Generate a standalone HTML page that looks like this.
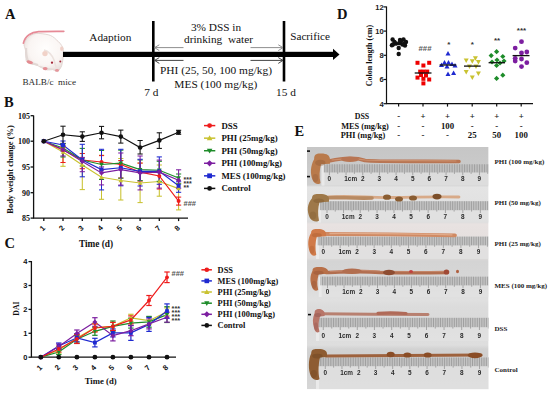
<!DOCTYPE html><html><head><meta charset="utf-8"><style>html,body{margin:0;padding:0;background:#fff;}body{width:550px;height:394px;overflow:hidden;}svg{display:block;}</style></head><body>
<svg width="550" height="394" viewBox="0 0 550 394">
<defs><filter id="bl" x="-20%" y="-20%" width="140%" height="140%"><feGaussianBlur stdDeviation="0.6"/></filter><filter id="bl2" x="-20%" y="-20%" width="140%" height="140%"><feGaussianBlur stdDeviation="1.2"/></filter></defs>
<text x="5" y="19" font-family="'Liberation Serif', serif" font-size="14.5" font-weight="bold" text-anchor="start" fill="#111" >A</text>
<text x="4" y="106.8" font-family="'Liberation Serif', serif" font-size="14.5" font-weight="bold" text-anchor="start" fill="#111" >B</text>
<text x="4.5" y="247.8" font-family="'Liberation Serif', serif" font-size="14.5" font-weight="bold" text-anchor="start" fill="#111" >C</text>
<text x="337" y="19" font-family="'Liberation Serif', serif" font-size="14.5" font-weight="bold" text-anchor="start" fill="#111" >D</text>
<text x="294.5" y="135.6" font-family="'Liberation Serif', serif" font-size="14.5" font-weight="bold" text-anchor="start" fill="#111" >E</text>
<radialGradient id="mg" cx="0.55" cy="0.4" r="0.65"><stop offset="0" stop-color="#fffefd"/><stop offset="0.65" stop-color="#faf5f3"/><stop offset="1" stop-color="#e6dcd9"/></radialGradient>
<g filter="url(#bl)">
<path d="M24,45 C24.5,47 25.3,49 25.5,50 C25.8,54 25.8,58 26.2,60.6 L27.6,62.7 C30,64 33,64.5 36,64.8 C39,66 42,68 45,69.6 C48,70.2 50,69.8 52.7,69.6 C54.5,70.2 56,71.5 57.6,71.7 C59.5,70 61,67.5 61.7,65.5 C62.5,62 63.1,59 63.1,57 C63.3,53 63.3,50 63.1,48 C61,44 59,42 56.9,40.3 C54,37 51,35.5 48.5,34.8 C44,33.8 40,33.3 35.9,33.4 C30,34.5 25,39 24,45 Z" fill="url(#mg)" stroke="#e0d2ce" stroke-width="0.9"/>
<path d="M44,50 C48,51 52,55 54,60 C55,64 56,67 57,70" stroke="#ece2de" stroke-width="1.6" fill="none"/>
<path d="M26,48 C26,54 26.5,58 28,61 C31,63.5 35,64 38,65" stroke="#e2d8d5" stroke-width="2.2" fill="none"/>
<path d="M40,66.5 C45,69 50,69 55,69.5" stroke="#e6dcd9" stroke-width="1.5" fill="none"/>
<path d="M23.4,43.1 C24.5,39 26.5,36.5 29,34.8 C31.5,33 35,32 38.7,31.7 C47,31.3 56,31.4 63.8,31.3" stroke="#e68a96" stroke-width="1.7" fill="none" stroke-linecap="round"/>
<ellipse cx="45" cy="53.6" rx="2.7" ry="2.6" fill="#f1d2c8"/>
<ellipse cx="61.7" cy="48.7" rx="1.6" ry="2.2" fill="#f0d0c8"/>
<circle cx="52" cy="62.7" r="1.15" fill="#a52a3a"/>
<circle cx="60.3" cy="61.6" r="1.0" fill="#a52a3a"/>
<ellipse cx="57" cy="70.4" rx="2" ry="1.4" fill="#e6969c"/>
<ellipse cx="45.2" cy="68.6" rx="2.4" ry="1.6" fill="#e48e94"/>
<ellipse cx="29.8" cy="62.2" rx="3.2" ry="1.6" fill="#e48a90" transform="rotate(15 29.8 62.2)"/>
</g>
<rect x="63" y="51.8" width="271" height="5.2" fill="#000"/>
<polygon points="333,48.8 339.5,54.4 333,60" fill="#000"/>
<rect x="152" y="21" width="2.6" height="60.5" fill="#000"/>
<rect x="282.7" y="21" width="2.6" height="60.5" fill="#000"/>
<g fill="none" stroke-width="0.95">
<g stroke="#8a8a8a"><line x1="155" y1="47.6" x2="183.5" y2="47.6"/><line x1="250.5" y1="47.6" x2="283" y2="47.6"/>
<polyline points="159.3,44.8 154.6,47.6 159.3,50.6"/><polyline points="278.3,44.8 283,47.6 278.3,50.6"/></g>
<g stroke="#3a3a3a"><line x1="155" y1="60.4" x2="183.5" y2="60.4"/><line x1="250.5" y1="60.4" x2="283" y2="60.4"/>
<polyline points="159.3,57.6 154.6,60.4 159.3,63.4"/><polyline points="278.3,57.6 283,60.4 278.3,63.4"/></g>
</g>
<text x="89.3" y="40.7" font-family="'Liberation Serif', serif" font-size="11.3" font-weight="normal" text-anchor="start" fill="#111" >Adaption</text>
<text x="216" y="31.2" font-family="'Liberation Serif', serif" font-size="11.3" font-weight="normal" text-anchor="middle" fill="#111" >3% DSS in</text>
<text x="218.5" y="43.4" font-family="'Liberation Serif', serif" font-size="11.3" font-weight="normal" text-anchor="middle" fill="#111" >drinking&#160; water</text>
<text x="216" y="74.3" font-family="'Liberation Serif', serif" font-size="11.4" font-weight="normal" text-anchor="middle" fill="#111" >PHI (25, 50, 100 mg/kg)</text>
<text x="215.8" y="87.5" font-family="'Liberation Serif', serif" font-size="11.4" font-weight="normal" text-anchor="middle" fill="#111" >MES (100 mg/kg)</text>
<text x="290.2" y="40.4" font-family="'Liberation Serif', serif" font-size="11.2" font-weight="normal" text-anchor="start" fill="#111" >Sacrifice</text>
<text x="49.2" y="85" font-family="'Liberation Serif', serif" font-size="9.2" font-weight="normal" text-anchor="middle" fill="#2a2a2a" >BALB/c&#160; mice</text>
<text x="151.4" y="96" font-family="'Liberation Serif', serif" font-size="11.3" font-weight="normal" text-anchor="middle" fill="#111" >7 d</text>
<text x="286" y="96" font-family="'Liberation Serif', serif" font-size="11.3" font-weight="normal" text-anchor="middle" fill="#111" >15 d</text>
<g stroke="#111" stroke-width="1.3" fill="none">
<line x1="33.6" y1="115.5" x2="33.6" y2="218.1"/>
<line x1="33" y1="218.1" x2="188" y2="218.1"/>
<line x1="30.6" y1="115.7" x2="33.6" y2="115.7"/>
<line x1="30.6" y1="141.2" x2="33.6" y2="141.2"/>
<line x1="30.6" y1="167" x2="33.6" y2="167"/>
<line x1="30.6" y1="192.7" x2="33.6" y2="192.7"/>
<line x1="30.6" y1="218.1" x2="33.6" y2="218.1"/>
<line x1="43.8" y1="218.1" x2="43.8" y2="221.1"/>
<line x1="63.0" y1="218.1" x2="63.0" y2="221.1"/>
<line x1="82.3" y1="218.1" x2="82.3" y2="221.1"/>
<line x1="101.5" y1="218.1" x2="101.5" y2="221.1"/>
<line x1="120.8" y1="218.1" x2="120.8" y2="221.1"/>
<line x1="140.1" y1="218.1" x2="140.1" y2="221.1"/>
<line x1="159.3" y1="218.1" x2="159.3" y2="221.1"/>
<line x1="178.6" y1="218.1" x2="178.6" y2="221.1"/>
</g>
<text x="29.9" y="118.5" font-family="'Liberation Serif', serif" font-size="8" font-weight="bold" text-anchor="end" fill="#111" >105</text>
<text x="29.9" y="144.0" font-family="'Liberation Serif', serif" font-size="8" font-weight="bold" text-anchor="end" fill="#111" >100</text>
<text x="29.9" y="169.8" font-family="'Liberation Serif', serif" font-size="8" font-weight="bold" text-anchor="end" fill="#111" >95</text>
<text x="29.9" y="195.5" font-family="'Liberation Serif', serif" font-size="8" font-weight="bold" text-anchor="end" fill="#111" >90</text>
<text x="29.9" y="220.9" font-family="'Liberation Serif', serif" font-size="8" font-weight="bold" text-anchor="end" fill="#111" >85</text>
<text x="42.8" y="230.5" font-family="'Liberation Sans', sans-serif" font-size="7.5" font-weight="bold" text-anchor="middle" fill="#111" transform="rotate(-45 42.8 228.5)">1</text>
<text x="62.05" y="230.5" font-family="'Liberation Sans', sans-serif" font-size="7.5" font-weight="bold" text-anchor="middle" fill="#111" transform="rotate(-45 62.0 228.5)">2</text>
<text x="81.3" y="230.5" font-family="'Liberation Sans', sans-serif" font-size="7.5" font-weight="bold" text-anchor="middle" fill="#111" transform="rotate(-45 81.3 228.5)">3</text>
<text x="100.55" y="230.5" font-family="'Liberation Sans', sans-serif" font-size="7.5" font-weight="bold" text-anchor="middle" fill="#111" transform="rotate(-45 100.5 228.5)">4</text>
<text x="119.8" y="230.5" font-family="'Liberation Sans', sans-serif" font-size="7.5" font-weight="bold" text-anchor="middle" fill="#111" transform="rotate(-45 119.8 228.5)">5</text>
<text x="139.05" y="230.5" font-family="'Liberation Sans', sans-serif" font-size="7.5" font-weight="bold" text-anchor="middle" fill="#111" transform="rotate(-45 139.1 228.5)">6</text>
<text x="158.3" y="230.5" font-family="'Liberation Sans', sans-serif" font-size="7.5" font-weight="bold" text-anchor="middle" fill="#111" transform="rotate(-45 158.3 228.5)">7</text>
<text x="177.55" y="230.5" font-family="'Liberation Sans', sans-serif" font-size="7.5" font-weight="bold" text-anchor="middle" fill="#111" transform="rotate(-45 177.6 228.5)">8</text>
<text x="96" y="246.6" font-family="'Liberation Serif', serif" font-size="9.3" font-weight="bold" text-anchor="middle" fill="#111" >Time (d)</text>
<text x="0" y="0" font-family="'Liberation Serif', serif" font-size="8.45" font-weight="bold" text-anchor="middle" fill="#111" transform="translate(12.9 169.5) rotate(-90)">Body weight change (%)</text>
<polyline points="43.8,141.2 63.0,152.0 82.3,165.0 101.5,177.2 120.8,180.5 140.1,183.0 159.3,181.5 178.6,188.6" stroke="#c9c230" stroke-width="1.15" fill="none"/>
<polyline points="43.8,141.2 63.0,150.0 82.3,160.0 101.5,162.0 120.8,164.5 140.1,172.1 159.3,176.0 178.6,201.1" stroke="#ee1c1c" stroke-width="1.15" fill="none"/>
<polyline points="43.8,141.2 63.0,148.0 82.3,160.0 101.5,164.5 120.8,163.2 140.1,169.6 159.3,170.3 178.6,178.0" stroke="#1e8c2a" stroke-width="1.15" fill="none"/>
<polyline points="43.8,141.2 63.0,145.0 82.3,160.0 101.5,169.6 120.8,167.8 140.1,171.3 159.3,171.3 178.6,185.8" stroke="#1f2ad0" stroke-width="1.15" fill="none"/>
<polyline points="43.8,141.2 63.0,149.5 82.3,161.4 101.5,172.9 120.8,169.6 140.1,172.9 159.3,172.1 178.6,180.2" stroke="#7c1ea0" stroke-width="1.15" fill="none"/>
<polyline points="43.8,141.2 63.0,134.8 82.3,136.6 101.5,132.8 120.8,136.6 140.1,147.5 159.3,140.4 178.6,132.3" stroke="#111111" stroke-width="1.15" fill="none"/>
<g stroke="#c9c230" stroke-width="1.05"><line x1="63.0" y1="148.0" x2="63.0" y2="166.3"/><line x1="60.4" y1="148.0" x2="65.6" y2="148.0"/><line x1="60.4" y1="166.3" x2="65.6" y2="166.3"/></g>
<g stroke="#c9c230" stroke-width="1.05"><line x1="82.3" y1="158.0" x2="82.3" y2="189.6"/><line x1="79.7" y1="158.0" x2="84.9" y2="158.0"/><line x1="79.7" y1="189.6" x2="84.9" y2="189.6"/></g>
<g stroke="#c9c230" stroke-width="1.05"><line x1="101.5" y1="155.2" x2="101.5" y2="199.3"/><line x1="99.0" y1="155.2" x2="104.1" y2="155.2"/><line x1="99.0" y1="199.3" x2="104.1" y2="199.3"/></g>
<g stroke="#c9c230" stroke-width="1.05"><line x1="120.8" y1="158.5" x2="120.8" y2="200.0"/><line x1="118.2" y1="158.5" x2="123.4" y2="158.5"/><line x1="118.2" y1="200.0" x2="123.4" y2="200.0"/></g>
<g stroke="#c9c230" stroke-width="1.05"><line x1="140.1" y1="163.0" x2="140.1" y2="202.6"/><line x1="137.5" y1="163.0" x2="142.7" y2="163.0"/><line x1="137.5" y1="202.6" x2="142.7" y2="202.6"/></g>
<g stroke="#c9c230" stroke-width="1.05"><line x1="159.3" y1="165.0" x2="159.3" y2="196.2"/><line x1="156.7" y1="165.0" x2="161.9" y2="165.0"/><line x1="156.7" y1="196.2" x2="161.9" y2="196.2"/></g>
<g stroke="#c9c230" stroke-width="1.05"><line x1="178.6" y1="183.6" x2="178.6" y2="209.9"/><line x1="176.0" y1="183.6" x2="181.2" y2="183.6"/><line x1="176.0" y1="209.9" x2="181.2" y2="209.9"/></g>
<g stroke="#ee1c1c" stroke-width="1.05"><line x1="63.0" y1="147.0" x2="63.0" y2="162.5"/><line x1="60.4" y1="147.0" x2="65.6" y2="147.0"/><line x1="60.4" y1="162.5" x2="65.6" y2="162.5"/></g>
<g stroke="#ee1c1c" stroke-width="1.05"><line x1="82.3" y1="153.5" x2="82.3" y2="168.7"/><line x1="79.7" y1="153.5" x2="84.9" y2="153.5"/><line x1="79.7" y1="168.7" x2="84.9" y2="168.7"/></g>
<g stroke="#ee1c1c" stroke-width="1.05"><line x1="101.5" y1="155.6" x2="101.5" y2="170.0"/><line x1="99.0" y1="155.6" x2="104.1" y2="155.6"/><line x1="99.0" y1="170.0" x2="104.1" y2="170.0"/></g>
<g stroke="#ee1c1c" stroke-width="1.05"><line x1="120.8" y1="160.5" x2="120.8" y2="178.0"/><line x1="118.2" y1="160.5" x2="123.4" y2="160.5"/><line x1="118.2" y1="178.0" x2="123.4" y2="178.0"/></g>
<g stroke="#ee1c1c" stroke-width="1.05"><line x1="140.1" y1="163.1" x2="140.1" y2="181.1"/><line x1="137.5" y1="163.1" x2="142.7" y2="163.1"/><line x1="137.5" y1="181.1" x2="142.7" y2="181.1"/></g>
<g stroke="#ee1c1c" stroke-width="1.05"><line x1="159.3" y1="171.0" x2="159.3" y2="189.0"/><line x1="156.7" y1="171.0" x2="161.9" y2="171.0"/><line x1="156.7" y1="189.0" x2="161.9" y2="189.0"/></g>
<g stroke="#ee1c1c" stroke-width="1.05"><line x1="178.6" y1="197.1" x2="178.6" y2="205.1"/><line x1="176.0" y1="197.1" x2="181.2" y2="197.1"/><line x1="176.0" y1="205.1" x2="181.2" y2="205.1"/></g>
<g stroke="#1e8c2a" stroke-width="1.05"><line x1="63.0" y1="144.0" x2="63.0" y2="157.0"/><line x1="60.4" y1="144.0" x2="65.6" y2="144.0"/><line x1="60.4" y1="157.0" x2="65.6" y2="157.0"/></g>
<g stroke="#1e8c2a" stroke-width="1.05"><line x1="82.3" y1="148.4" x2="82.3" y2="166.0"/><line x1="79.7" y1="148.4" x2="84.9" y2="148.4"/><line x1="79.7" y1="166.0" x2="84.9" y2="166.0"/></g>
<g stroke="#1e8c2a" stroke-width="1.05"><line x1="101.5" y1="150.5" x2="101.5" y2="179.5"/><line x1="99.0" y1="150.5" x2="104.1" y2="150.5"/><line x1="99.0" y1="179.5" x2="104.1" y2="179.5"/></g>
<g stroke="#1e8c2a" stroke-width="1.05"><line x1="120.8" y1="150.2" x2="120.8" y2="178.2"/><line x1="118.2" y1="150.2" x2="123.4" y2="150.2"/><line x1="118.2" y1="178.2" x2="123.4" y2="178.2"/></g>
<g stroke="#1e8c2a" stroke-width="1.05"><line x1="140.1" y1="160.0" x2="140.1" y2="180.6"/><line x1="137.5" y1="160.0" x2="142.7" y2="160.0"/><line x1="137.5" y1="180.6" x2="142.7" y2="180.6"/></g>
<g stroke="#1e8c2a" stroke-width="1.05"><line x1="159.3" y1="161.3" x2="159.3" y2="181.3"/><line x1="156.7" y1="161.3" x2="161.9" y2="161.3"/><line x1="156.7" y1="181.3" x2="161.9" y2="181.3"/></g>
<g stroke="#1e8c2a" stroke-width="1.05"><line x1="178.6" y1="174.0" x2="178.6" y2="184.0"/><line x1="176.0" y1="174.0" x2="181.2" y2="174.0"/><line x1="176.0" y1="184.0" x2="181.2" y2="184.0"/></g>
<g stroke="#1f2ad0" stroke-width="1.05"><line x1="63.0" y1="141.0" x2="63.0" y2="151.0"/><line x1="60.4" y1="141.0" x2="65.6" y2="141.0"/><line x1="60.4" y1="151.0" x2="65.6" y2="151.0"/></g>
<g stroke="#1f2ad0" stroke-width="1.05"><line x1="82.3" y1="144.3" x2="82.3" y2="176.8"/><line x1="79.7" y1="144.3" x2="84.9" y2="144.3"/><line x1="79.7" y1="176.8" x2="84.9" y2="176.8"/></g>
<g stroke="#1f2ad0" stroke-width="1.05"><line x1="101.5" y1="149.3" x2="101.5" y2="189.9"/><line x1="99.0" y1="149.3" x2="104.1" y2="149.3"/><line x1="99.0" y1="189.9" x2="104.1" y2="189.9"/></g>
<g stroke="#1f2ad0" stroke-width="1.05"><line x1="120.8" y1="149.3" x2="120.8" y2="185.8"/><line x1="118.2" y1="149.3" x2="123.4" y2="149.3"/><line x1="118.2" y1="185.8" x2="123.4" y2="185.8"/></g>
<g stroke="#1f2ad0" stroke-width="1.05"><line x1="140.1" y1="159.3" x2="140.1" y2="186.0"/><line x1="137.5" y1="159.3" x2="142.7" y2="159.3"/><line x1="137.5" y1="186.0" x2="142.7" y2="186.0"/></g>
<g stroke="#1f2ad0" stroke-width="1.05"><line x1="159.3" y1="156.9" x2="159.3" y2="184.3"/><line x1="156.7" y1="156.9" x2="161.9" y2="156.9"/><line x1="156.7" y1="184.3" x2="161.9" y2="184.3"/></g>
<g stroke="#1f2ad0" stroke-width="1.05"><line x1="178.6" y1="181.8" x2="178.6" y2="192.3"/><line x1="176.0" y1="181.8" x2="181.2" y2="181.8"/><line x1="176.0" y1="192.3" x2="181.2" y2="192.3"/></g>
<g stroke="#7c1ea0" stroke-width="1.05"><line x1="63.0" y1="145.5" x2="63.0" y2="156.0"/><line x1="60.4" y1="145.5" x2="65.6" y2="145.5"/><line x1="60.4" y1="156.0" x2="65.6" y2="156.0"/></g>
<g stroke="#7c1ea0" stroke-width="1.05"><line x1="82.3" y1="157.4" x2="82.3" y2="171.7"/><line x1="79.7" y1="157.4" x2="84.9" y2="157.4"/><line x1="79.7" y1="171.7" x2="84.9" y2="171.7"/></g>
<g stroke="#7c1ea0" stroke-width="1.05"><line x1="101.5" y1="166.9" x2="101.5" y2="184.9"/><line x1="99.0" y1="166.9" x2="104.1" y2="166.9"/><line x1="99.0" y1="184.9" x2="104.1" y2="184.9"/></g>
<g stroke="#7c1ea0" stroke-width="1.05"><line x1="120.8" y1="153.0" x2="120.8" y2="185.1"/><line x1="118.2" y1="153.0" x2="123.4" y2="153.0"/><line x1="118.2" y1="185.1" x2="123.4" y2="185.1"/></g>
<g stroke="#7c1ea0" stroke-width="1.05"><line x1="140.1" y1="156.0" x2="140.1" y2="189.9"/><line x1="137.5" y1="156.0" x2="142.7" y2="156.0"/><line x1="137.5" y1="189.9" x2="142.7" y2="189.9"/></g>
<g stroke="#7c1ea0" stroke-width="1.05"><line x1="159.3" y1="160.1" x2="159.3" y2="188.1"/><line x1="156.7" y1="160.1" x2="161.9" y2="160.1"/><line x1="156.7" y1="188.1" x2="161.9" y2="188.1"/></g>
<g stroke="#7c1ea0" stroke-width="1.05"><line x1="178.6" y1="169.8" x2="178.6" y2="188.2"/><line x1="176.0" y1="169.8" x2="181.2" y2="169.8"/><line x1="176.0" y1="188.2" x2="181.2" y2="188.2"/></g>
<g stroke="#111111" stroke-width="1.05"><line x1="63.0" y1="126.2" x2="63.0" y2="143.4"/><line x1="60.4" y1="126.2" x2="65.6" y2="126.2"/><line x1="60.4" y1="143.4" x2="65.6" y2="143.4"/></g>
<g stroke="#111111" stroke-width="1.05"><line x1="82.3" y1="131.8" x2="82.3" y2="141.4"/><line x1="79.7" y1="131.8" x2="84.9" y2="131.8"/><line x1="79.7" y1="141.4" x2="84.9" y2="141.4"/></g>
<g stroke="#111111" stroke-width="1.05"><line x1="101.5" y1="126.4" x2="101.5" y2="138.8"/><line x1="99.0" y1="126.4" x2="104.1" y2="126.4"/><line x1="99.0" y1="138.8" x2="104.1" y2="138.8"/></g>
<g stroke="#111111" stroke-width="1.05"><line x1="120.8" y1="130.1" x2="120.8" y2="143.1"/><line x1="118.2" y1="130.1" x2="123.4" y2="130.1"/><line x1="118.2" y1="143.1" x2="123.4" y2="143.1"/></g>
<g stroke="#111111" stroke-width="1.05"><line x1="140.1" y1="140.5" x2="140.1" y2="154.0"/><line x1="137.5" y1="140.5" x2="142.7" y2="140.5"/><line x1="137.5" y1="154.0" x2="142.7" y2="154.0"/></g>
<g stroke="#111111" stroke-width="1.05"><line x1="159.3" y1="132.8" x2="159.3" y2="148.4"/><line x1="156.7" y1="132.8" x2="161.9" y2="132.8"/><line x1="156.7" y1="148.4" x2="161.9" y2="148.4"/></g>
<g stroke="#111111" stroke-width="1.05"><line x1="178.6" y1="130.3" x2="178.6" y2="134.3"/><line x1="176.0" y1="130.3" x2="181.2" y2="130.3"/><line x1="176.0" y1="134.3" x2="181.2" y2="134.3"/></g>
<polygon points="43.8,138.8 46.1,142.9 41.5,142.9" fill="#c9c230"/>
<polygon points="63.0,149.6 65.3,153.7 60.8,153.7" fill="#c9c230"/>
<polygon points="82.3,162.6 84.6,166.7 80.0,166.7" fill="#c9c230"/>
<polygon points="101.5,174.8 103.8,178.9 99.2,178.9" fill="#c9c230"/>
<polygon points="120.8,178.1 123.1,182.2 118.5,182.2" fill="#c9c230"/>
<polygon points="140.1,180.6 142.4,184.7 137.8,184.7" fill="#c9c230"/>
<polygon points="159.3,179.1 161.6,183.2 157.0,183.2" fill="#c9c230"/>
<polygon points="178.6,186.2 180.9,190.3 176.2,190.3" fill="#c9c230"/>
<circle cx="43.8" cy="141.2" r="2.00" fill="#ee1c1c"/>
<circle cx="63.0" cy="150.0" r="2.00" fill="#ee1c1c"/>
<circle cx="82.3" cy="160.0" r="2.00" fill="#ee1c1c"/>
<circle cx="101.5" cy="162.0" r="2.00" fill="#ee1c1c"/>
<circle cx="120.8" cy="164.5" r="2.00" fill="#ee1c1c"/>
<circle cx="140.1" cy="172.1" r="2.00" fill="#ee1c1c"/>
<circle cx="159.3" cy="176.0" r="2.00" fill="#ee1c1c"/>
<circle cx="178.6" cy="201.1" r="2.00" fill="#ee1c1c"/>
<polygon points="43.8,143.6 46.1,139.5 41.5,139.5" fill="#1e8c2a"/>
<polygon points="63.0,150.4 65.3,146.3 60.8,146.3" fill="#1e8c2a"/>
<polygon points="82.3,162.4 84.6,158.3 80.0,158.3" fill="#1e8c2a"/>
<polygon points="101.5,166.9 103.8,162.8 99.2,162.8" fill="#1e8c2a"/>
<polygon points="120.8,165.6 123.1,161.5 118.5,161.5" fill="#1e8c2a"/>
<polygon points="140.1,172.0 142.4,167.9 137.8,167.9" fill="#1e8c2a"/>
<polygon points="159.3,172.7 161.6,168.6 157.0,168.6" fill="#1e8c2a"/>
<polygon points="178.6,180.4 180.9,176.3 176.2,176.3" fill="#1e8c2a"/>
<rect x="41.8" y="139.2" width="4.0" height="4.0" fill="#1f2ad0"/>
<rect x="61.0" y="143.0" width="4.0" height="4.0" fill="#1f2ad0"/>
<rect x="80.3" y="158.0" width="4.0" height="4.0" fill="#1f2ad0"/>
<rect x="99.5" y="167.6" width="4.0" height="4.0" fill="#1f2ad0"/>
<rect x="118.8" y="165.8" width="4.0" height="4.0" fill="#1f2ad0"/>
<rect x="138.1" y="169.3" width="4.0" height="4.0" fill="#1f2ad0"/>
<rect x="157.3" y="169.3" width="4.0" height="4.0" fill="#1f2ad0"/>
<rect x="176.6" y="183.8" width="4.0" height="4.0" fill="#1f2ad0"/>
<polygon points="43.8,138.6 46.4,141.2 43.8,143.8 41.2,141.2" fill="#7c1ea0"/>
<polygon points="63.0,146.9 65.6,149.5 63.0,152.1 60.4,149.5" fill="#7c1ea0"/>
<polygon points="82.3,158.8 84.9,161.4 82.3,164.0 79.7,161.4" fill="#7c1ea0"/>
<polygon points="101.5,170.3 104.1,172.9 101.5,175.5 99.0,172.9" fill="#7c1ea0"/>
<polygon points="120.8,167.0 123.4,169.6 120.8,172.2 118.2,169.6" fill="#7c1ea0"/>
<polygon points="140.1,170.3 142.7,172.9 140.1,175.5 137.5,172.9" fill="#7c1ea0"/>
<polygon points="159.3,169.5 161.9,172.1 159.3,174.7 156.7,172.1" fill="#7c1ea0"/>
<polygon points="178.6,177.6 181.2,180.2 178.6,182.8 176.0,180.2" fill="#7c1ea0"/>
<circle cx="43.8" cy="141.2" r="2.30" fill="#111111"/>
<circle cx="63.0" cy="134.8" r="2.30" fill="#111111"/>
<circle cx="82.3" cy="136.6" r="2.30" fill="#111111"/>
<circle cx="101.5" cy="132.8" r="2.30" fill="#111111"/>
<circle cx="120.8" cy="136.6" r="2.30" fill="#111111"/>
<circle cx="140.1" cy="147.5" r="2.30" fill="#111111"/>
<circle cx="159.3" cy="140.4" r="2.30" fill="#111111"/>
<circle cx="178.6" cy="132.3" r="2.30" fill="#111111"/>
<text x="183.5" y="182" font-family="'Liberation Sans', sans-serif" font-size="7" font-weight="bold" text-anchor="start" fill="#333" >***</text>
<text x="183.5" y="185.5" font-family="'Liberation Sans', sans-serif" font-size="7" font-weight="bold" text-anchor="start" fill="#333" >***</text>
<text x="183.5" y="190.4" font-family="'Liberation Sans', sans-serif" font-size="7" font-weight="bold" text-anchor="start" fill="#333" >**</text>
<text x="183.5" y="206" font-family="'Liberation Sans', sans-serif" font-size="7.5" font-weight="bold" text-anchor="start" fill="#555" >###</text>
<line x1="204" y1="125.60" x2="215.3" y2="125.60" stroke="#ee1c1c" stroke-width="1.5"/>
<circle cx="209.6" cy="125.6" r="2.40" fill="#ee1c1c"/>
<text x="221.4" y="128.50" font-family="'Liberation Serif', serif" font-size="8.85" font-weight="bold" text-anchor="start" fill="#111" >DSS</text>
<line x1="204" y1="138.16" x2="215.3" y2="138.16" stroke="#c9c230" stroke-width="1.5"/>
<polygon points="209.6,135.3 212.4,140.2 206.8,140.2" fill="#c9c230"/>
<text x="221.4" y="141.06" font-family="'Liberation Serif', serif" font-size="8.85" font-weight="bold" text-anchor="start" fill="#111" >PHI (25mg/kg)</text>
<line x1="204" y1="150.72" x2="215.3" y2="150.72" stroke="#1e8c2a" stroke-width="1.5"/>
<polygon points="209.6,153.6 212.4,148.7 206.8,148.7" fill="#1e8c2a"/>
<text x="221.4" y="153.62" font-family="'Liberation Serif', serif" font-size="8.85" font-weight="bold" text-anchor="start" fill="#111" >PHI (50mg/kg)</text>
<line x1="204" y1="163.28" x2="215.3" y2="163.28" stroke="#7c1ea0" stroke-width="1.5"/>
<polygon points="209.6,160.2 212.7,163.3 209.6,166.4 206.5,163.3" fill="#7c1ea0"/>
<text x="221.4" y="166.18" font-family="'Liberation Serif', serif" font-size="8.85" font-weight="bold" text-anchor="start" fill="#111" >PHI (100mg/kg)</text>
<line x1="204" y1="175.84" x2="215.3" y2="175.84" stroke="#1f2ad0" stroke-width="1.5"/>
<rect x="207.2" y="173.4" width="4.8" height="4.8" fill="#1f2ad0"/>
<text x="221.4" y="178.74" font-family="'Liberation Serif', serif" font-size="8.85" font-weight="bold" text-anchor="start" fill="#111" >MES (100mg/kg)</text>
<line x1="204" y1="188.40" x2="215.3" y2="188.40" stroke="#111111" stroke-width="1.5"/>
<circle cx="209.6" cy="188.4" r="2.40" fill="#111111"/>
<text x="221.4" y="191.30" font-family="'Liberation Serif', serif" font-size="8.85" font-weight="bold" text-anchor="start" fill="#111" >Control</text>
<g stroke="#111" stroke-width="1.3" fill="none">
<line x1="31.4" y1="261" x2="31.4" y2="357.2"/>
<line x1="31" y1="357.2" x2="176" y2="357.2"/>
<line x1="28.5" y1="357.2" x2="31.4" y2="357.2"/>
<line x1="28.5" y1="333.3" x2="31.4" y2="333.3"/>
<line x1="28.5" y1="309.4" x2="31.4" y2="309.4"/>
<line x1="28.5" y1="285.5" x2="31.4" y2="285.5"/>
<line x1="28.5" y1="261.6" x2="31.4" y2="261.6"/>
</g>
<text x="27.5" y="359.8" font-family="'Liberation Sans', sans-serif" font-size="7.5" font-weight="bold" text-anchor="end" fill="#111" >0</text>
<text x="27.5" y="335.90000000000003" font-family="'Liberation Sans', sans-serif" font-size="7.5" font-weight="bold" text-anchor="end" fill="#111" >1</text>
<text x="27.5" y="312.0" font-family="'Liberation Sans', sans-serif" font-size="7.5" font-weight="bold" text-anchor="end" fill="#111" >2</text>
<text x="27.5" y="288.1" font-family="'Liberation Sans', sans-serif" font-size="7.5" font-weight="bold" text-anchor="end" fill="#111" >3</text>
<text x="27.5" y="264.20000000000005" font-family="'Liberation Sans', sans-serif" font-size="7.5" font-weight="bold" text-anchor="end" fill="#111" >4</text>
<text x="39.699999999999996" y="370" font-family="'Liberation Sans', sans-serif" font-size="7.5" font-weight="bold" text-anchor="middle" fill="#111" transform="rotate(-45 39.7 368)">1</text>
<text x="57.73" y="370" font-family="'Liberation Sans', sans-serif" font-size="7.5" font-weight="bold" text-anchor="middle" fill="#111" transform="rotate(-45 57.7 368)">2</text>
<text x="75.76" y="370" font-family="'Liberation Sans', sans-serif" font-size="7.5" font-weight="bold" text-anchor="middle" fill="#111" transform="rotate(-45 75.8 368)">3</text>
<text x="93.79" y="370" font-family="'Liberation Sans', sans-serif" font-size="7.5" font-weight="bold" text-anchor="middle" fill="#111" transform="rotate(-45 93.8 368)">4</text>
<text x="111.82000000000001" y="370" font-family="'Liberation Sans', sans-serif" font-size="7.5" font-weight="bold" text-anchor="middle" fill="#111" transform="rotate(-45 111.8 368)">5</text>
<text x="129.85" y="370" font-family="'Liberation Sans', sans-serif" font-size="7.5" font-weight="bold" text-anchor="middle" fill="#111" transform="rotate(-45 129.8 368)">6</text>
<text x="147.88000000000002" y="370" font-family="'Liberation Sans', sans-serif" font-size="7.5" font-weight="bold" text-anchor="middle" fill="#111" transform="rotate(-45 147.9 368)">7</text>
<text x="165.91" y="370" font-family="'Liberation Sans', sans-serif" font-size="7.5" font-weight="bold" text-anchor="middle" fill="#111" transform="rotate(-45 165.9 368)">8</text>
<text x="100.7" y="384" font-family="'Liberation Serif', serif" font-size="8.7" font-weight="bold" text-anchor="middle" fill="#111" >Time (d)</text>
<text x="0" y="0" font-family="'Liberation Serif', serif" font-size="7.8" font-weight="bold" text-anchor="middle" fill="#111" transform="translate(19.2 308.6) rotate(-90)">DAI</text>
<polyline points="40.8,357.2 58.8,350.0 76.9,338.0 94.9,327.5 112.9,326.4 130.9,317.8 149.0,320.7 167.0,311.9" stroke="#c9c230" stroke-width="1.2" fill="none"/>
<polyline points="40.8,357.2 58.8,352.0 76.9,339.3 94.9,331.3 112.9,326.4 130.9,323.1 149.0,321.8 167.0,314.6" stroke="#1e8c2a" stroke-width="1.2" fill="none"/>
<polyline points="40.8,357.2 58.8,346.0 76.9,337.8 94.9,342.6 112.9,332.9 130.9,332.9 149.0,324.4 167.0,311.1" stroke="#1f2ad0" stroke-width="1.2" fill="none"/>
<polyline points="40.8,357.2 58.8,346.5 76.9,333.5 94.9,322.0 112.9,335.7 130.9,330.7 149.0,323.9 167.0,317.2" stroke="#7c1ea0" stroke-width="1.2" fill="none"/>
<polyline points="40.8,357.2 58.8,349.0 76.9,339.0 94.9,328.0 112.9,326.4 130.9,319.9 149.0,300.5 167.0,277.3" stroke="#ee1c1c" stroke-width="1.2" fill="none"/>
<g stroke="#c9c230" stroke-width="1.2"><line x1="58.8" y1="347.0" x2="58.8" y2="353.0"/><line x1="56.1" y1="347.0" x2="61.5" y2="347.0"/><line x1="56.1" y1="353.0" x2="61.5" y2="353.0"/></g>
<g stroke="#c9c230" stroke-width="1.2"><line x1="76.9" y1="334.0" x2="76.9" y2="342.0"/><line x1="74.2" y1="334.0" x2="79.6" y2="334.0"/><line x1="74.2" y1="342.0" x2="79.6" y2="342.0"/></g>
<g stroke="#c9c230" stroke-width="1.2"><line x1="94.9" y1="323.5" x2="94.9" y2="331.5"/><line x1="92.2" y1="323.5" x2="97.6" y2="323.5"/><line x1="92.2" y1="331.5" x2="97.6" y2="331.5"/></g>
<g stroke="#c9c230" stroke-width="1.2"><line x1="112.9" y1="322.4" x2="112.9" y2="330.4"/><line x1="110.2" y1="322.4" x2="115.6" y2="322.4"/><line x1="110.2" y1="330.4" x2="115.6" y2="330.4"/></g>
<g stroke="#c9c230" stroke-width="1.2"><line x1="130.9" y1="314.3" x2="130.9" y2="321.3"/><line x1="128.2" y1="314.3" x2="133.6" y2="314.3"/><line x1="128.2" y1="321.3" x2="133.6" y2="321.3"/></g>
<g stroke="#c9c230" stroke-width="1.2"><line x1="149.0" y1="316.7" x2="149.0" y2="324.7"/><line x1="146.3" y1="316.7" x2="151.7" y2="316.7"/><line x1="146.3" y1="324.7" x2="151.7" y2="324.7"/></g>
<g stroke="#c9c230" stroke-width="1.2"><line x1="167.0" y1="307.9" x2="167.0" y2="315.9"/><line x1="164.3" y1="307.9" x2="169.7" y2="307.9"/><line x1="164.3" y1="315.9" x2="169.7" y2="315.9"/></g>
<g stroke="#1e8c2a" stroke-width="1.2"><line x1="58.8" y1="349.5" x2="58.8" y2="354.5"/><line x1="56.1" y1="349.5" x2="61.5" y2="349.5"/><line x1="56.1" y1="354.5" x2="61.5" y2="354.5"/></g>
<g stroke="#1e8c2a" stroke-width="1.2"><line x1="76.9" y1="335.3" x2="76.9" y2="343.3"/><line x1="74.2" y1="335.3" x2="79.6" y2="335.3"/><line x1="74.2" y1="343.3" x2="79.6" y2="343.3"/></g>
<g stroke="#1e8c2a" stroke-width="1.2"><line x1="94.9" y1="327.3" x2="94.9" y2="335.3"/><line x1="92.2" y1="327.3" x2="97.6" y2="327.3"/><line x1="92.2" y1="335.3" x2="97.6" y2="335.3"/></g>
<g stroke="#1e8c2a" stroke-width="1.2"><line x1="112.9" y1="321.0" x2="112.9" y2="331.8"/><line x1="110.2" y1="321.0" x2="115.6" y2="321.0"/><line x1="110.2" y1="331.8" x2="115.6" y2="331.8"/></g>
<g stroke="#1e8c2a" stroke-width="1.2"><line x1="130.9" y1="318.1" x2="130.9" y2="328.1"/><line x1="128.2" y1="318.1" x2="133.6" y2="318.1"/><line x1="128.2" y1="328.1" x2="133.6" y2="328.1"/></g>
<g stroke="#1e8c2a" stroke-width="1.2"><line x1="149.0" y1="316.4" x2="149.0" y2="327.2"/><line x1="146.3" y1="316.4" x2="151.7" y2="316.4"/><line x1="146.3" y1="327.2" x2="151.7" y2="327.2"/></g>
<g stroke="#1e8c2a" stroke-width="1.2"><line x1="167.0" y1="306.7" x2="167.0" y2="322.5"/><line x1="164.3" y1="306.7" x2="169.7" y2="306.7"/><line x1="164.3" y1="322.5" x2="169.7" y2="322.5"/></g>
<g stroke="#1f2ad0" stroke-width="1.2"><line x1="58.8" y1="343.0" x2="58.8" y2="349.0"/><line x1="56.1" y1="343.0" x2="61.5" y2="343.0"/><line x1="56.1" y1="349.0" x2="61.5" y2="349.0"/></g>
<g stroke="#1f2ad0" stroke-width="1.2"><line x1="76.9" y1="333.8" x2="76.9" y2="341.8"/><line x1="74.2" y1="333.8" x2="79.6" y2="333.8"/><line x1="74.2" y1="341.8" x2="79.6" y2="341.8"/></g>
<g stroke="#1f2ad0" stroke-width="1.2"><line x1="94.9" y1="338.3" x2="94.9" y2="346.9"/><line x1="92.2" y1="338.3" x2="97.6" y2="338.3"/><line x1="92.2" y1="346.9" x2="97.6" y2="346.9"/></g>
<g stroke="#1f2ad0" stroke-width="1.2"><line x1="112.9" y1="328.9" x2="112.9" y2="336.9"/><line x1="110.2" y1="328.9" x2="115.6" y2="328.9"/><line x1="110.2" y1="336.9" x2="115.6" y2="336.9"/></g>
<g stroke="#1f2ad0" stroke-width="1.2"><line x1="130.9" y1="325.4" x2="130.9" y2="340.4"/><line x1="128.2" y1="325.4" x2="133.6" y2="325.4"/><line x1="128.2" y1="340.4" x2="133.6" y2="340.4"/></g>
<g stroke="#1f2ad0" stroke-width="1.2"><line x1="149.0" y1="317.4" x2="149.0" y2="331.4"/><line x1="146.3" y1="317.4" x2="151.7" y2="317.4"/><line x1="146.3" y1="331.4" x2="151.7" y2="331.4"/></g>
<g stroke="#1f2ad0" stroke-width="1.2"><line x1="167.0" y1="303.9" x2="167.0" y2="318.3"/><line x1="164.3" y1="303.9" x2="169.7" y2="303.9"/><line x1="164.3" y1="318.3" x2="169.7" y2="318.3"/></g>
<g stroke="#7c1ea0" stroke-width="1.2"><line x1="58.8" y1="344.0" x2="58.8" y2="349.0"/><line x1="56.1" y1="344.0" x2="61.5" y2="344.0"/><line x1="56.1" y1="349.0" x2="61.5" y2="349.0"/></g>
<g stroke="#7c1ea0" stroke-width="1.2"><line x1="76.9" y1="330.0" x2="76.9" y2="337.0"/><line x1="74.2" y1="330.0" x2="79.6" y2="330.0"/><line x1="74.2" y1="337.0" x2="79.6" y2="337.0"/></g>
<g stroke="#7c1ea0" stroke-width="1.2"><line x1="94.9" y1="317.7" x2="94.9" y2="326.3"/><line x1="92.2" y1="317.7" x2="97.6" y2="317.7"/><line x1="92.2" y1="326.3" x2="97.6" y2="326.3"/></g>
<g stroke="#7c1ea0" stroke-width="1.2"><line x1="112.9" y1="330.5" x2="112.9" y2="340.9"/><line x1="110.2" y1="330.5" x2="115.6" y2="330.5"/><line x1="110.2" y1="340.9" x2="115.6" y2="340.9"/></g>
<g stroke="#7c1ea0" stroke-width="1.2"><line x1="130.9" y1="325.7" x2="130.9" y2="335.7"/><line x1="128.2" y1="325.7" x2="133.6" y2="325.7"/><line x1="128.2" y1="335.7" x2="133.6" y2="335.7"/></g>
<g stroke="#7c1ea0" stroke-width="1.2"><line x1="149.0" y1="318.9" x2="149.0" y2="328.9"/><line x1="146.3" y1="318.9" x2="151.7" y2="318.9"/><line x1="146.3" y1="328.9" x2="151.7" y2="328.9"/></g>
<g stroke="#7c1ea0" stroke-width="1.2"><line x1="167.0" y1="312.2" x2="167.0" y2="322.2"/><line x1="164.3" y1="312.2" x2="169.7" y2="312.2"/><line x1="164.3" y1="322.2" x2="169.7" y2="322.2"/></g>
<g stroke="#ee1c1c" stroke-width="1.2"><line x1="58.8" y1="346.0" x2="58.8" y2="352.0"/><line x1="56.1" y1="346.0" x2="61.5" y2="346.0"/><line x1="56.1" y1="352.0" x2="61.5" y2="352.0"/></g>
<g stroke="#ee1c1c" stroke-width="1.2"><line x1="76.9" y1="334.5" x2="76.9" y2="343.5"/><line x1="74.2" y1="334.5" x2="79.6" y2="334.5"/><line x1="74.2" y1="343.5" x2="79.6" y2="343.5"/></g>
<g stroke="#ee1c1c" stroke-width="1.2"><line x1="94.9" y1="324.0" x2="94.9" y2="332.0"/><line x1="92.2" y1="324.0" x2="97.6" y2="324.0"/><line x1="92.2" y1="332.0" x2="97.6" y2="332.0"/></g>
<g stroke="#ee1c1c" stroke-width="1.2"><line x1="112.9" y1="322.4" x2="112.9" y2="330.4"/><line x1="110.2" y1="322.4" x2="115.6" y2="322.4"/><line x1="110.2" y1="330.4" x2="115.6" y2="330.4"/></g>
<g stroke="#ee1c1c" stroke-width="1.2"><line x1="130.9" y1="315.9" x2="130.9" y2="323.9"/><line x1="128.2" y1="315.9" x2="133.6" y2="315.9"/><line x1="128.2" y1="323.9" x2="133.6" y2="323.9"/></g>
<g stroke="#ee1c1c" stroke-width="1.2"><line x1="149.0" y1="295.5" x2="149.0" y2="305.5"/><line x1="146.3" y1="295.5" x2="151.7" y2="295.5"/><line x1="146.3" y1="305.5" x2="151.7" y2="305.5"/></g>
<g stroke="#ee1c1c" stroke-width="1.2"><line x1="167.0" y1="272.0" x2="167.0" y2="282.6"/><line x1="164.3" y1="272.0" x2="169.7" y2="272.0"/><line x1="164.3" y1="282.6" x2="169.7" y2="282.6"/></g>
<polygon points="40.8,354.9 43.0,358.8 38.6,358.8" fill="#c9c230"/>
<polygon points="58.8,347.7 61.0,351.6 56.6,351.6" fill="#c9c230"/>
<polygon points="76.9,335.7 79.0,339.6 74.7,339.6" fill="#c9c230"/>
<polygon points="94.9,325.2 97.1,329.1 92.7,329.1" fill="#c9c230"/>
<polygon points="112.9,324.1 115.1,328.0 110.7,328.0" fill="#c9c230"/>
<polygon points="130.9,315.5 133.1,319.4 128.8,319.4" fill="#c9c230"/>
<polygon points="149.0,318.4 151.2,322.3 146.8,322.3" fill="#c9c230"/>
<polygon points="167.0,309.6 169.2,313.5 164.8,313.5" fill="#c9c230"/>
<polygon points="40.8,359.5 43.0,355.6 38.6,355.6" fill="#1e8c2a"/>
<polygon points="58.8,354.3 61.0,350.4 56.6,350.4" fill="#1e8c2a"/>
<polygon points="76.9,341.6 79.0,337.7 74.7,337.7" fill="#1e8c2a"/>
<polygon points="94.9,333.6 97.1,329.7 92.7,329.7" fill="#1e8c2a"/>
<polygon points="112.9,328.7 115.1,324.8 110.7,324.8" fill="#1e8c2a"/>
<polygon points="130.9,325.4 133.1,321.5 128.8,321.5" fill="#1e8c2a"/>
<polygon points="149.0,324.1 151.2,320.2 146.8,320.2" fill="#1e8c2a"/>
<polygon points="167.0,316.9 169.2,313.0 164.8,313.0" fill="#1e8c2a"/>
<rect x="38.9" y="355.3" width="3.8" height="3.8" fill="#1f2ad0"/>
<rect x="56.9" y="344.1" width="3.8" height="3.8" fill="#1f2ad0"/>
<rect x="75.0" y="335.9" width="3.8" height="3.8" fill="#1f2ad0"/>
<rect x="93.0" y="340.7" width="3.8" height="3.8" fill="#1f2ad0"/>
<rect x="111.0" y="331.0" width="3.8" height="3.8" fill="#1f2ad0"/>
<rect x="129.0" y="331.0" width="3.8" height="3.8" fill="#1f2ad0"/>
<rect x="147.1" y="322.5" width="3.8" height="3.8" fill="#1f2ad0"/>
<rect x="165.1" y="309.2" width="3.8" height="3.8" fill="#1f2ad0"/>
<polygon points="40.8,354.7 43.3,357.2 40.8,359.7 38.3,357.2" fill="#7c1ea0"/>
<polygon points="58.8,344.0 61.3,346.5 58.8,349.0 56.4,346.5" fill="#7c1ea0"/>
<polygon points="76.9,331.0 79.3,333.5 76.9,336.0 74.4,333.5" fill="#7c1ea0"/>
<polygon points="94.9,319.5 97.4,322.0 94.9,324.5 92.4,322.0" fill="#7c1ea0"/>
<polygon points="112.9,333.2 115.4,335.7 112.9,338.2 110.5,335.7" fill="#7c1ea0"/>
<polygon points="130.9,328.2 133.4,330.7 130.9,333.2 128.5,330.7" fill="#7c1ea0"/>
<polygon points="149.0,321.4 151.5,323.9 149.0,326.4 146.5,323.9" fill="#7c1ea0"/>
<polygon points="167.0,314.7 169.5,317.2 167.0,319.7 164.5,317.2" fill="#7c1ea0"/>
<circle cx="40.8" cy="357.2" r="1.90" fill="#ee1c1c"/>
<circle cx="58.8" cy="349.0" r="1.90" fill="#ee1c1c"/>
<circle cx="76.9" cy="339.0" r="1.90" fill="#ee1c1c"/>
<circle cx="94.9" cy="328.0" r="1.90" fill="#ee1c1c"/>
<circle cx="112.9" cy="326.4" r="1.90" fill="#ee1c1c"/>
<circle cx="130.9" cy="319.9" r="1.90" fill="#ee1c1c"/>
<circle cx="149.0" cy="300.5" r="1.90" fill="#ee1c1c"/>
<circle cx="167.0" cy="277.3" r="1.90" fill="#ee1c1c"/>
<circle cx="40.8" cy="357.2" r="2.40" fill="#111111"/>
<circle cx="58.8" cy="357.2" r="2.40" fill="#111111"/>
<circle cx="76.9" cy="357.2" r="2.40" fill="#111111"/>
<circle cx="94.9" cy="357.2" r="2.40" fill="#111111"/>
<circle cx="112.9" cy="357.2" r="2.40" fill="#111111"/>
<circle cx="130.9" cy="357.2" r="2.40" fill="#111111"/>
<circle cx="149.0" cy="357.2" r="2.40" fill="#111111"/>
<circle cx="167.0" cy="357.2" r="2.40" fill="#111111"/>
<text x="171.5" y="275.5" font-family="'Liberation Sans', sans-serif" font-size="7.5" font-weight="bold" text-anchor="start" fill="#555" >###</text>
<text x="171.6" y="310.8" font-family="'Liberation Sans', sans-serif" font-size="7.4" font-weight="bold" text-anchor="start" fill="#333" >***</text>
<text x="171.6" y="314.7" font-family="'Liberation Sans', sans-serif" font-size="7.4" font-weight="bold" text-anchor="start" fill="#333" >***</text>
<text x="171.6" y="318.6" font-family="'Liberation Sans', sans-serif" font-size="7.4" font-weight="bold" text-anchor="start" fill="#333" >***</text>
<text x="171.6" y="322.5" font-family="'Liberation Sans', sans-serif" font-size="7.4" font-weight="bold" text-anchor="start" fill="#333" >***</text>
<line x1="201.4" y1="269.8" x2="211.9" y2="269.8" stroke="#ee1c1c" stroke-width="1.5"/>
<circle cx="206.8" cy="269.8" r="2.30" fill="#ee1c1c"/>
<text x="217.6" y="272.6" font-family="'Liberation Serif', serif" font-size="8.4" font-weight="bold" text-anchor="start" fill="#111" >DSS</text>
<line x1="201.4" y1="280.9" x2="211.9" y2="280.9" stroke="#1f2ad0" stroke-width="1.5"/>
<rect x="204.5" y="278.6" width="4.6" height="4.6" fill="#1f2ad0"/>
<text x="217.6" y="283.7" font-family="'Liberation Serif', serif" font-size="8.4" font-weight="bold" text-anchor="start" fill="#111" >MES (100mg/kg)</text>
<line x1="201.4" y1="292.0" x2="211.9" y2="292.0" stroke="#c9c230" stroke-width="1.5"/>
<polygon points="206.8,289.3 209.4,294.0 204.2,294.0" fill="#c9c230"/>
<text x="217.6" y="294.8" font-family="'Liberation Serif', serif" font-size="8.4" font-weight="bold" text-anchor="start" fill="#111" >PHI (25mg/kg)</text>
<line x1="201.4" y1="303.2" x2="211.9" y2="303.2" stroke="#1e8c2a" stroke-width="1.5"/>
<polygon points="206.8,305.9 209.4,301.2 204.2,301.2" fill="#1e8c2a"/>
<text x="217.6" y="306.0" font-family="'Liberation Serif', serif" font-size="8.4" font-weight="bold" text-anchor="start" fill="#111" >PHI (50mg/kg)</text>
<line x1="201.4" y1="314.3" x2="211.9" y2="314.3" stroke="#7c1ea0" stroke-width="1.5"/>
<polygon points="206.8,311.3 209.8,314.3 206.8,317.3 203.8,314.3" fill="#7c1ea0"/>
<text x="217.6" y="317.1" font-family="'Liberation Serif', serif" font-size="8.4" font-weight="bold" text-anchor="start" fill="#111" >PHI (100mg/kg)</text>
<line x1="201.4" y1="325.4" x2="211.9" y2="325.4" stroke="#111111" stroke-width="1.5"/>
<circle cx="206.8" cy="325.4" r="2.30" fill="#111111"/>
<text x="217.6" y="328.2" font-family="'Liberation Serif', serif" font-size="8.4" font-weight="bold" text-anchor="start" fill="#111" >Control</text>
<g stroke="#111" stroke-width="1.2" fill="none">
<line x1="386.5" y1="6.5" x2="386.5" y2="103.8"/>
<line x1="386" y1="103.6" x2="533" y2="103.6"/>
<line x1="383.5" y1="6.9" x2="386.5" y2="6.9"/>
<line x1="383.5" y1="31.1" x2="386.5" y2="31.1"/>
<line x1="383.5" y1="55.3" x2="386.5" y2="55.3"/>
<line x1="383.5" y1="79.5" x2="386.5" y2="79.5"/>
<line x1="383.5" y1="103.7" x2="386.5" y2="103.7"/>
<line x1="398.6" y1="103.6" x2="398.6" y2="106.6"/>
<line x1="423" y1="103.6" x2="423" y2="106.6"/>
<line x1="447.5" y1="103.6" x2="447.5" y2="106.6"/>
<line x1="472.2" y1="103.6" x2="472.2" y2="106.6"/>
<line x1="496.7" y1="103.6" x2="496.7" y2="106.6"/>
<line x1="521.2" y1="103.6" x2="521.2" y2="106.6"/>
</g>
<text x="383.6" y="9.7" font-family="'Liberation Sans', sans-serif" font-size="7.5" font-weight="bold" text-anchor="end" fill="#222" >12</text>
<text x="383.6" y="33.9" font-family="'Liberation Sans', sans-serif" font-size="7.5" font-weight="bold" text-anchor="end" fill="#222" >10</text>
<text x="383.6" y="58.1" font-family="'Liberation Sans', sans-serif" font-size="7.5" font-weight="bold" text-anchor="end" fill="#222" >8</text>
<text x="383.6" y="82.3" font-family="'Liberation Sans', sans-serif" font-size="7.5" font-weight="bold" text-anchor="end" fill="#222" >6</text>
<text x="383.6" y="106.5" font-family="'Liberation Sans', sans-serif" font-size="7.5" font-weight="bold" text-anchor="end" fill="#222" >4</text>
<text x="0" y="0" font-family="'Liberation Serif', serif" font-size="8" font-weight="bold" text-anchor="middle" fill="#111" transform="translate(371.5 55.6) rotate(-90)">Colon length (cm)</text>
<circle cx="392.6" cy="39.5" r="2.20" fill="#111111"/>
<circle cx="391.9" cy="45.2" r="2.20" fill="#111111"/>
<circle cx="398.7" cy="48.0" r="2.20" fill="#111111"/>
<circle cx="398.7" cy="54.0" r="2.20" fill="#111111"/>
<circle cx="400.0" cy="40.0" r="2.20" fill="#111111"/>
<circle cx="403.5" cy="39.5" r="2.20" fill="#111111"/>
<circle cx="406.0" cy="42.0" r="2.20" fill="#111111"/>
<circle cx="402.5" cy="44.5" r="2.20" fill="#111111"/>
<circle cx="396.0" cy="43.5" r="2.20" fill="#111111"/>
<circle cx="405.0" cy="45.5" r="2.20" fill="#111111"/>
<circle cx="394.5" cy="42.0" r="2.20" fill="#111111"/>
<circle cx="399.5" cy="43.0" r="2.20" fill="#111111"/>
<circle cx="393.0" cy="44.5" r="2.20" fill="#111111"/>
<circle cx="401.0" cy="41.0" r="2.20" fill="#111111"/>
<circle cx="404.5" cy="43.5" r="2.20" fill="#111111"/>
<rect x="415.5" y="60.8" width="4.0" height="4.0" fill="#ee0000"/>
<rect x="427.2" y="60.8" width="4.0" height="4.0" fill="#ee0000"/>
<rect x="421.4" y="63.5" width="4.0" height="4.0" fill="#ee0000"/>
<rect x="418.2" y="69.6" width="4.0" height="4.0" fill="#ee0000"/>
<rect x="421.6" y="69.6" width="4.0" height="4.0" fill="#ee0000"/>
<rect x="425.2" y="69.6" width="4.0" height="4.0" fill="#ee0000"/>
<rect x="415.5" y="75.6" width="4.0" height="4.0" fill="#ee0000"/>
<rect x="427.2" y="77.5" width="4.0" height="4.0" fill="#ee0000"/>
<rect x="421.4" y="76.8" width="4.0" height="4.0" fill="#ee0000"/>
<rect x="421.4" y="81.4" width="4.0" height="4.0" fill="#ee0000"/>
<rect x="419.0" y="73.0" width="4.0" height="4.0" fill="#ee0000"/>
<rect x="424.0" y="73.5" width="4.0" height="4.0" fill="#ee0000"/>
<polygon points="448.0,51.0 450.5,55.5 445.5,55.5" fill="#1f2ad0"/>
<polygon points="441.5,62.4 444.0,66.9 439.0,66.9" fill="#1f2ad0"/>
<polygon points="444.5,59.9 447.0,64.4 442.0,64.4" fill="#1f2ad0"/>
<polygon points="448.5,59.9 451.0,64.4 446.0,64.4" fill="#1f2ad0"/>
<polygon points="452.0,61.4 454.5,65.9 449.5,65.9" fill="#1f2ad0"/>
<polygon points="455.0,62.9 457.5,67.4 452.5,67.4" fill="#1f2ad0"/>
<polygon points="448.0,71.6 450.5,76.1 445.5,76.1" fill="#1f2ad0"/>
<polygon points="453.6,70.4 456.1,74.9 451.1,74.9" fill="#1f2ad0"/>
<polygon points="447.0,63.9 449.5,68.4 444.5,68.4" fill="#1f2ad0"/>
<polygon points="466.2,63.1 468.7,58.6 463.7,58.6" fill="#c9c230"/>
<polygon points="475.4,60.8 477.9,56.3 472.9,56.3" fill="#c9c230"/>
<polygon points="472.3,63.8 474.8,59.3 469.8,59.3" fill="#c9c230"/>
<polygon points="478.4,64.6 480.9,60.1 475.9,60.1" fill="#c9c230"/>
<polygon points="466.2,74.6 468.7,70.1 463.7,70.1" fill="#c9c230"/>
<polygon points="472.3,79.9 474.8,75.4 469.8,75.4" fill="#c9c230"/>
<polygon points="478.4,76.0 480.9,71.5 475.9,71.5" fill="#c9c230"/>
<polygon points="469.5,69.1 472.0,64.6 467.0,64.6" fill="#c9c230"/>
<polygon points="476.0,69.1 478.5,64.6 473.5,64.6" fill="#c9c230"/>
<polygon points="496.6,49.1 499.2,51.7 496.6,54.3 494.0,51.7" fill="#1e8c2a"/>
<polygon points="491.2,53.0 493.8,55.6 491.2,58.2 488.6,55.6" fill="#1e8c2a"/>
<polygon points="502.8,53.9 505.4,56.5 502.8,59.1 500.2,56.5" fill="#1e8c2a"/>
<polygon points="492.0,59.4 494.6,62.0 492.0,64.6 489.4,62.0" fill="#1e8c2a"/>
<polygon points="497.0,57.4 499.6,60.0 497.0,62.6 494.4,60.0" fill="#1e8c2a"/>
<polygon points="500.0,60.4 502.6,63.0 500.0,65.6 497.4,63.0" fill="#1e8c2a"/>
<polygon points="504.0,58.4 506.6,61.0 504.0,63.6 501.4,61.0" fill="#1e8c2a"/>
<polygon points="496.6,62.9 499.2,65.5 496.6,68.1 494.0,65.5" fill="#1e8c2a"/>
<polygon points="502.8,72.6 505.4,75.2 502.8,77.8 500.2,75.2" fill="#1e8c2a"/>
<polygon points="496.6,75.8 499.2,78.4 496.6,81.0 494.0,78.4" fill="#1e8c2a"/>
<circle cx="521.5" cy="41.7" r="2.40" fill="#7c1ea0"/>
<circle cx="515.2" cy="48.1" r="2.40" fill="#7c1ea0"/>
<circle cx="526.8" cy="52.0" r="2.40" fill="#7c1ea0"/>
<circle cx="521.5" cy="52.9" r="2.40" fill="#7c1ea0"/>
<circle cx="515.2" cy="58.3" r="2.40" fill="#7c1ea0"/>
<circle cx="521.5" cy="59.0" r="2.40" fill="#7c1ea0"/>
<circle cx="515.2" cy="61.0" r="2.40" fill="#7c1ea0"/>
<circle cx="526.8" cy="62.7" r="2.40" fill="#7c1ea0"/>
<circle cx="521.5" cy="66.6" r="2.40" fill="#7c1ea0"/>
<line x1="391" y1="44.5" x2="406" y2="44.5" stroke="#111" stroke-width="1.3"/>
<line x1="414.7" y1="73" x2="431.5" y2="73" stroke="#111" stroke-width="1.3"/>
<line x1="439.6" y1="65" x2="456.3" y2="65" stroke="#111" stroke-width="1.3"/>
<line x1="464" y1="66.1" x2="480.7" y2="66.1" stroke="#111" stroke-width="1.3"/>
<line x1="488.6" y1="62.7" x2="505" y2="62.7" stroke="#111" stroke-width="1.3"/>
<line x1="512.6" y1="55.6" x2="529.5" y2="55.6" stroke="#111" stroke-width="1.3"/>
<text x="425" y="51" font-family="'Liberation Sans', sans-serif" font-size="7.8" font-weight="bold" text-anchor="middle" fill="#5a5a5a" >###</text>
<text x="448.7" y="47" font-family="'Liberation Sans', sans-serif" font-size="8" font-weight="bold" text-anchor="middle" fill="#333" >*</text>
<text x="472.3" y="47" font-family="'Liberation Sans', sans-serif" font-size="8" font-weight="bold" text-anchor="middle" fill="#333" >*</text>
<text x="497" y="43.2" font-family="'Liberation Sans', sans-serif" font-size="8" font-weight="bold" text-anchor="middle" fill="#333" >**</text>
<text x="521.5" y="32.5" font-family="'Liberation Sans', sans-serif" font-size="8" font-weight="bold" text-anchor="middle" fill="#333" >***</text>
<text x="362" y="119" font-family="'Liberation Serif', serif" font-size="7.9" font-weight="bold" text-anchor="middle" fill="#111" >DSS</text>
<text x="365" y="128.6" font-family="'Liberation Serif', serif" font-size="8.3" font-weight="bold" text-anchor="middle" fill="#111" >MES (mg/kg)</text>
<text x="363" y="137.6" font-family="'Liberation Serif', serif" font-size="8.3" font-weight="bold" text-anchor="middle" fill="#111" >PHI (mg/kg)</text>
<text x="398.6" y="119" font-family="'Liberation Serif', serif" font-size="8.8" font-weight="bold" text-anchor="middle" fill="#111" >-</text>
<text x="423" y="119" font-family="'Liberation Serif', serif" font-size="8.8" font-weight="bold" text-anchor="middle" fill="#111" >+</text>
<text x="447.5" y="119" font-family="'Liberation Serif', serif" font-size="8.8" font-weight="bold" text-anchor="middle" fill="#111" >+</text>
<text x="472.2" y="119" font-family="'Liberation Serif', serif" font-size="8.8" font-weight="bold" text-anchor="middle" fill="#111" >+</text>
<text x="496.7" y="119" font-family="'Liberation Serif', serif" font-size="8.8" font-weight="bold" text-anchor="middle" fill="#111" >+</text>
<text x="521.2" y="119" font-family="'Liberation Serif', serif" font-size="8.8" font-weight="bold" text-anchor="middle" fill="#111" >+</text>
<text x="398.6" y="128.6" font-family="'Liberation Serif', serif" font-size="8.8" font-weight="bold" text-anchor="middle" fill="#111" >-</text>
<text x="423" y="128.6" font-family="'Liberation Serif', serif" font-size="8.8" font-weight="bold" text-anchor="middle" fill="#111" >-</text>
<text x="447.5" y="128.6" font-family="'Liberation Serif', serif" font-size="8.8" font-weight="bold" text-anchor="middle" fill="#111" >100</text>
<text x="472.2" y="128.6" font-family="'Liberation Serif', serif" font-size="8.8" font-weight="bold" text-anchor="middle" fill="#111" >-</text>
<text x="496.7" y="128.6" font-family="'Liberation Serif', serif" font-size="8.8" font-weight="bold" text-anchor="middle" fill="#111" >-</text>
<text x="521.2" y="128.6" font-family="'Liberation Serif', serif" font-size="8.8" font-weight="bold" text-anchor="middle" fill="#111" >-</text>
<text x="398.6" y="137.6" font-family="'Liberation Serif', serif" font-size="8.8" font-weight="bold" text-anchor="middle" fill="#111" >-</text>
<text x="423" y="137.6" font-family="'Liberation Serif', serif" font-size="8.8" font-weight="bold" text-anchor="middle" fill="#111" >-</text>
<text x="447.5" y="137.6" font-family="'Liberation Serif', serif" font-size="8.8" font-weight="bold" text-anchor="middle" fill="#111" >-</text>
<text x="472.2" y="137.6" font-family="'Liberation Serif', serif" font-size="8.8" font-weight="bold" text-anchor="middle" fill="#111" >25</text>
<text x="496.7" y="137.6" font-family="'Liberation Serif', serif" font-size="8.8" font-weight="bold" text-anchor="middle" fill="#111" >50</text>
<text x="521.2" y="137.6" font-family="'Liberation Serif', serif" font-size="8.8" font-weight="bold" text-anchor="middle" fill="#111" >100</text>
<clipPath id="pc"><rect x="307" y="147" width="181.6" height="242.3"/></clipPath>
<filter id="pb" x="0" y="0" width="100%" height="100%"><feGaussianBlur stdDeviation="0.35"/></filter>
<g clip-path="url(#pc)"><g filter="url(#pb)">
<linearGradient id="pg" x1="0" y1="147" x2="0" y2="389.3" gradientUnits="userSpaceOnUse"><stop offset="0.0000" stop-color="#c6c6c6"/><stop offset="0.0660" stop-color="#c9c9c9"/><stop offset="0.1568" stop-color="#cfcfcf"/><stop offset="0.1651" stop-color="#e4e4e4"/><stop offset="0.2187" stop-color="#e2e2e2"/><stop offset="0.3095" stop-color="#dcdcdc"/><stop offset="0.3178" stop-color="#e8e2e1"/><stop offset="0.3673" stop-color="#e6e0df"/><stop offset="0.4581" stop-color="#dedad9"/><stop offset="0.4705" stop-color="#d4d4d4"/><stop offset="0.5324" stop-color="#d6d6d6"/><stop offset="0.6314" stop-color="#e0e0e0"/><stop offset="0.6562" stop-color="#dcdcdc"/><stop offset="0.7057" stop-color="#dadada"/><stop offset="0.8172" stop-color="#dedede"/><stop offset="0.8337" stop-color="#d2d2d2"/><stop offset="0.8708" stop-color="#d0d0d0"/><stop offset="1.0000" stop-color="#d6d6d6"/></linearGradient>
<rect x="307" y="147" width="181.6" height="242.3" fill="url(#pg)"/>
<rect x="321.5" y="164.2" width="170.1" height="21.4" rx="1.2" fill="#e2e2e2" fill-opacity="0.75"/>
<rect x="323.0" y="164.2" width="167.1" height="8.5" fill="#d2d2d2"/>
<rect x="321.5" y="164.2" width="3" height="21.4" fill="#ececec" opacity="0.8"/>
<path d="M324.40 164.2V172.4M326.07 164.2V172.4M327.73 164.2V172.4M329.40 164.2V175.3M331.07 164.2V172.4M332.73 164.2V172.4M334.40 164.2V172.4M336.07 164.2V172.4M337.73 164.2V173.9M339.40 164.2V172.4M341.07 164.2V172.4M342.74 164.2V172.4M344.40 164.2V172.4M346.07 164.2V175.3M347.74 164.2V172.4M349.40 164.2V172.4M351.07 164.2V172.4M352.74 164.2V172.4M354.40 164.2V173.9M356.07 164.2V172.4M357.74 164.2V172.4M359.41 164.2V172.4M361.07 164.2V172.4M362.74 164.2V175.3M364.41 164.2V172.4M366.07 164.2V172.4M367.74 164.2V172.4M369.41 164.2V172.4M371.07 164.2V173.9M372.74 164.2V172.4M374.41 164.2V172.4M376.08 164.2V172.4M377.74 164.2V172.4M379.41 164.2V175.3M381.08 164.2V172.4M382.74 164.2V172.4M384.41 164.2V172.4M386.08 164.2V172.4M387.75 164.2V173.9M389.41 164.2V172.4M391.08 164.2V172.4M392.75 164.2V172.4M394.41 164.2V172.4M396.08 164.2V175.3M397.75 164.2V172.4M399.41 164.2V172.4M401.08 164.2V172.4M402.75 164.2V172.4M404.41 164.2V173.9M406.08 164.2V172.4M407.75 164.2V172.4M409.42 164.2V172.4M411.08 164.2V172.4M412.75 164.2V175.3M414.42 164.2V172.4M416.08 164.2V172.4M417.75 164.2V172.4M419.42 164.2V172.4M421.08 164.2V173.9M422.75 164.2V172.4M424.42 164.2V172.4M426.09 164.2V172.4M427.75 164.2V172.4M429.42 164.2V175.3M431.09 164.2V172.4M432.75 164.2V172.4M434.42 164.2V172.4M436.09 164.2V172.4M437.75 164.2V173.9M439.42 164.2V172.4M441.09 164.2V172.4M442.76 164.2V172.4M444.42 164.2V172.4M446.09 164.2V175.3M447.76 164.2V172.4M449.42 164.2V172.4M451.09 164.2V172.4M452.76 164.2V172.4M454.42 164.2V173.9M456.09 164.2V172.4M457.76 164.2V172.4M459.43 164.2V172.4M461.09 164.2V172.4M462.76 164.2V175.3M464.43 164.2V172.4M466.09 164.2V172.4M467.76 164.2V172.4M469.43 164.2V172.4M471.10 164.2V173.9M472.76 164.2V172.4M474.43 164.2V172.4M476.10 164.2V172.4M477.76 164.2V172.4M479.43 164.2V175.3M481.10 164.2V172.4M482.76 164.2V172.4M484.43 164.2V172.4M486.10 164.2V172.4M487.76 164.2V173.9" stroke="#606060" stroke-width="0.45"/>
<text x="329.4" y="181.2" font-family="'Liberation Sans', sans-serif" font-size="6.4" font-weight="bold" text-anchor="middle" fill="#2a2a2a">0</text><text x="344.3" y="181.2" font-family="'Liberation Sans', sans-serif" font-size="6.4" font-weight="bold" fill="#2a2a2a">1cm</text><text x="362.7" y="181.2" font-family="'Liberation Sans', sans-serif" font-size="6.4" font-weight="bold" text-anchor="middle" fill="#2a2a2a">2</text><text x="379.4" y="181.2" font-family="'Liberation Sans', sans-serif" font-size="6.4" font-weight="bold" text-anchor="middle" fill="#2a2a2a">3</text><text x="396.1" y="181.2" font-family="'Liberation Sans', sans-serif" font-size="6.4" font-weight="bold" text-anchor="middle" fill="#2a2a2a">4</text><text x="412.8" y="181.2" font-family="'Liberation Sans', sans-serif" font-size="6.4" font-weight="bold" text-anchor="middle" fill="#2a2a2a">5</text><text x="429.4" y="181.2" font-family="'Liberation Sans', sans-serif" font-size="6.4" font-weight="bold" text-anchor="middle" fill="#2a2a2a">6</text><text x="446.1" y="181.2" font-family="'Liberation Sans', sans-serif" font-size="6.4" font-weight="bold" text-anchor="middle" fill="#2a2a2a">7</text><text x="462.8" y="181.2" font-family="'Liberation Sans', sans-serif" font-size="6.4" font-weight="bold" text-anchor="middle" fill="#2a2a2a">8</text><text x="479.4" y="181.2" font-family="'Liberation Sans', sans-serif" font-size="6.4" font-weight="bold" text-anchor="middle" fill="#2a2a2a">9</text>
<rect x="318" y="201.2" width="173.6" height="21.4" rx="1.2" fill="#e2e2e2" fill-opacity="0.75"/>
<rect x="319.5" y="201.2" width="170.6" height="9.2" fill="#d2d2d2"/>
<rect x="318" y="201.2" width="3" height="21.4" fill="#ececec" opacity="0.8"/>
<path d="M320.41 201.2V210.1M322.06 201.2V210.1M323.70 201.2V210.1M325.35 201.2V210.1M327.00 201.2V213.0M328.65 201.2V210.1M330.30 201.2V210.1M331.96 201.2V210.1M333.61 201.2V210.1M335.26 201.2V211.6M336.92 201.2V210.1M338.58 201.2V210.1M340.24 201.2V210.1M341.90 201.2V210.1M343.56 201.2V213.0M345.22 201.2V210.1M346.89 201.2V210.1M348.55 201.2V210.1M350.22 201.2V210.1M351.88 201.2V211.6M353.55 201.2V210.1M355.22 201.2V210.1M356.89 201.2V210.1M358.57 201.2V210.1M360.24 201.2V213.0M361.91 201.2V210.1M363.59 201.2V210.1M365.27 201.2V210.1M366.95 201.2V210.1M368.62 201.2V211.6M370.31 201.2V210.1M371.99 201.2V210.1M373.67 201.2V210.1M375.35 201.2V210.1M377.04 201.2V213.0M378.73 201.2V210.1M380.41 201.2V210.1M382.10 201.2V210.1M383.79 201.2V210.1M385.49 201.2V211.6M387.18 201.2V210.1M388.87 201.2V210.1M390.57 201.2V210.1M392.26 201.2V210.1M393.96 201.2V213.0M395.66 201.2V210.1M397.36 201.2V210.1M399.06 201.2V210.1M400.76 201.2V210.1M402.46 201.2V211.6M404.17 201.2V210.1M405.88 201.2V210.1M407.58 201.2V210.1M409.29 201.2V210.1M411.00 201.2V213.0M412.71 201.2V210.1M414.42 201.2V210.1M416.14 201.2V210.1M417.85 201.2V210.1M419.56 201.2V211.6M421.28 201.2V210.1M423.00 201.2V210.1M424.72 201.2V210.1M426.44 201.2V210.1M428.16 201.2V213.0M429.88 201.2V210.1M431.61 201.2V210.1M433.33 201.2V210.1M435.06 201.2V210.1M436.79 201.2V211.6M438.51 201.2V210.1M440.24 201.2V210.1M441.97 201.2V210.1M443.71 201.2V210.1M445.44 201.2V213.0M447.17 201.2V210.1M448.91 201.2V210.1M450.65 201.2V210.1M452.39 201.2V210.1M454.12 201.2V211.6M455.87 201.2V210.1M457.61 201.2V210.1M459.35 201.2V210.1M461.09 201.2V210.1M462.84 201.2V213.0M464.59 201.2V210.1M466.33 201.2V210.1M468.08 201.2V210.1M469.83 201.2V210.1M471.58 201.2V211.6M473.34 201.2V210.1M475.09 201.2V210.1M476.85 201.2V210.1M478.60 201.2V210.1M480.36 201.2V213.0M482.12 201.2V210.1M483.88 201.2V210.1M485.64 201.2V210.1M487.40 201.2V210.1" stroke="#606060" stroke-width="0.45"/>
<text x="327.0" y="219.0" font-family="'Liberation Sans', sans-serif" font-size="6.4" font-weight="bold" text-anchor="middle" fill="#2a2a2a">0</text><text x="341.8" y="219.0" font-family="'Liberation Sans', sans-serif" font-size="6.4" font-weight="bold" fill="#2a2a2a">1cm</text><text x="360.2" y="219.0" font-family="'Liberation Sans', sans-serif" font-size="6.4" font-weight="bold" text-anchor="middle" fill="#2a2a2a">2</text><text x="377.0" y="219.0" font-family="'Liberation Sans', sans-serif" font-size="6.4" font-weight="bold" text-anchor="middle" fill="#2a2a2a">3</text><text x="394.0" y="219.0" font-family="'Liberation Sans', sans-serif" font-size="6.4" font-weight="bold" text-anchor="middle" fill="#2a2a2a">4</text><text x="411.0" y="219.0" font-family="'Liberation Sans', sans-serif" font-size="6.4" font-weight="bold" text-anchor="middle" fill="#2a2a2a">5</text><text x="428.2" y="219.0" font-family="'Liberation Sans', sans-serif" font-size="6.4" font-weight="bold" text-anchor="middle" fill="#2a2a2a">6</text><text x="445.4" y="219.0" font-family="'Liberation Sans', sans-serif" font-size="6.4" font-weight="bold" text-anchor="middle" fill="#2a2a2a">7</text><text x="462.8" y="219.0" font-family="'Liberation Sans', sans-serif" font-size="6.4" font-weight="bold" text-anchor="middle" fill="#2a2a2a">8</text><text x="480.4" y="219.0" font-family="'Liberation Sans', sans-serif" font-size="6.4" font-weight="bold" text-anchor="middle" fill="#2a2a2a">9</text>
<rect x="316" y="236.6" width="175.6" height="22.4" rx="1.2" fill="#e2e2e2" fill-opacity="0.75"/>
<rect x="317.5" y="236.6" width="172.6" height="9.0" fill="#d2d2d2"/>
<rect x="316" y="236.6" width="3" height="22.4" fill="#ececec" opacity="0.8"/>
<path d="M318.26 236.6V245.3M319.94 236.6V245.3M321.62 236.6V245.3M323.30 236.6V248.2M324.98 236.6V245.3M326.66 236.6V245.3M328.34 236.6V245.3M330.03 236.6V245.3M331.71 236.6V246.8M333.40 236.6V245.3M335.08 236.6V245.3M336.77 236.6V245.3M338.46 236.6V245.3M340.15 236.6V248.2M341.84 236.6V245.3M343.53 236.6V245.3M345.22 236.6V245.3M346.92 236.6V245.3M348.61 236.6V246.8M350.31 236.6V245.3M352.00 236.6V245.3M353.70 236.6V245.3M355.40 236.6V245.3M357.10 236.6V248.2M358.80 236.6V245.3M360.50 236.6V245.3M362.20 236.6V245.3M363.91 236.6V245.3M365.61 236.6V246.8M367.32 236.6V245.3M369.02 236.6V245.3M370.73 236.6V245.3M372.44 236.6V245.3M374.15 236.6V248.2M375.86 236.6V245.3M377.57 236.6V245.3M379.28 236.6V245.3M381.00 236.6V245.3M382.71 236.6V246.8M384.43 236.6V245.3M386.14 236.6V245.3M387.86 236.6V245.3M389.58 236.6V245.3M391.30 236.6V248.2M393.02 236.6V245.3M394.74 236.6V245.3M396.46 236.6V245.3M398.19 236.6V245.3M399.91 236.6V246.8M401.64 236.6V245.3M403.36 236.6V245.3M405.09 236.6V245.3M406.82 236.6V245.3M408.55 236.6V248.2M410.28 236.6V245.3M412.01 236.6V245.3M413.74 236.6V245.3M415.48 236.6V245.3M417.21 236.6V246.8M418.95 236.6V245.3M420.68 236.6V245.3M422.42 236.6V245.3M424.16 236.6V245.3M425.90 236.6V248.2M427.64 236.6V245.3M429.38 236.6V245.3M431.12 236.6V245.3M432.87 236.6V245.3M434.61 236.6V246.8M436.36 236.6V245.3M438.10 236.6V245.3M439.85 236.6V245.3M441.60 236.6V245.3M443.35 236.6V248.2M445.10 236.6V245.3M446.85 236.6V245.3M448.60 236.6V245.3M450.36 236.6V245.3M452.11 236.6V246.8M453.87 236.6V245.3M455.62 236.6V245.3M457.38 236.6V245.3M459.14 236.6V245.3M460.90 236.6V248.2M462.66 236.6V245.3M464.42 236.6V245.3M466.18 236.6V245.3M467.95 236.6V245.3M469.71 236.6V246.8M471.48 236.6V245.3M473.24 236.6V245.3M475.01 236.6V245.3M476.78 236.6V245.3M478.55 236.6V248.2M480.32 236.6V245.3M482.09 236.6V245.3M483.86 236.6V245.3M485.64 236.6V245.3M487.41 236.6V246.8" stroke="#606060" stroke-width="0.45"/>
<text x="323.3" y="254.3" font-family="'Liberation Sans', sans-serif" font-size="6.4" font-weight="bold" text-anchor="middle" fill="#2a2a2a">0</text><text x="338.4" y="254.3" font-family="'Liberation Sans', sans-serif" font-size="6.4" font-weight="bold" fill="#2a2a2a">1cm</text><text x="357.1" y="254.3" font-family="'Liberation Sans', sans-serif" font-size="6.4" font-weight="bold" text-anchor="middle" fill="#2a2a2a">2</text><text x="374.2" y="254.3" font-family="'Liberation Sans', sans-serif" font-size="6.4" font-weight="bold" text-anchor="middle" fill="#2a2a2a">3</text><text x="391.3" y="254.3" font-family="'Liberation Sans', sans-serif" font-size="6.4" font-weight="bold" text-anchor="middle" fill="#2a2a2a">4</text><text x="408.6" y="254.3" font-family="'Liberation Sans', sans-serif" font-size="6.4" font-weight="bold" text-anchor="middle" fill="#2a2a2a">5</text><text x="425.9" y="254.3" font-family="'Liberation Sans', sans-serif" font-size="6.4" font-weight="bold" text-anchor="middle" fill="#2a2a2a">6</text><text x="443.4" y="254.3" font-family="'Liberation Sans', sans-serif" font-size="6.4" font-weight="bold" text-anchor="middle" fill="#2a2a2a">7</text><text x="460.9" y="254.3" font-family="'Liberation Sans', sans-serif" font-size="6.4" font-weight="bold" text-anchor="middle" fill="#2a2a2a">8</text><text x="478.6" y="254.3" font-family="'Liberation Sans', sans-serif" font-size="6.4" font-weight="bold" text-anchor="middle" fill="#2a2a2a">9</text>
<rect x="318.7" y="276.6" width="172.9" height="20.4" rx="1.2" fill="#e2e2e2" fill-opacity="0.75"/>
<rect x="320.2" y="276.6" width="169.9" height="9.0" fill="#d2d2d2"/>
<rect x="318.7" y="276.6" width="3" height="20.4" fill="#ececec" opacity="0.8"/>
<path d="M320.91 276.6V285.3M322.55 276.6V285.3M324.20 276.6V285.3M325.85 276.6V285.3M327.50 276.6V288.2M329.15 276.6V285.3M330.80 276.6V285.3M332.45 276.6V285.3M334.11 276.6V285.3M335.76 276.6V286.8M337.42 276.6V285.3M339.08 276.6V285.3M340.74 276.6V285.3M342.39 276.6V285.3M344.06 276.6V288.2M345.72 276.6V285.3M347.38 276.6V285.3M349.04 276.6V285.3M350.71 276.6V285.3M352.37 276.6V286.8M354.04 276.6V285.3M355.71 276.6V285.3M357.38 276.6V285.3M359.05 276.6V285.3M360.72 276.6V288.2M362.39 276.6V285.3M364.07 276.6V285.3M365.74 276.6V285.3M367.42 276.6V285.3M369.09 276.6V286.8M370.77 276.6V285.3M372.45 276.6V285.3M374.13 276.6V285.3M375.81 276.6V285.3M377.50 276.6V288.2M379.18 276.6V285.3M380.86 276.6V285.3M382.55 276.6V285.3M384.24 276.6V285.3M385.92 276.6V286.8M387.61 276.6V285.3M389.30 276.6V285.3M390.99 276.6V285.3M392.69 276.6V285.3M394.38 276.6V288.2M396.07 276.6V285.3M397.77 276.6V285.3M399.47 276.6V285.3M401.16 276.6V285.3M402.86 276.6V286.8M404.56 276.6V285.3M406.26 276.6V285.3M407.97 276.6V285.3M409.67 276.6V285.3M411.38 276.6V288.2M413.08 276.6V285.3M414.79 276.6V285.3M416.49 276.6V285.3M418.20 276.6V285.3M419.91 276.6V286.8M421.62 276.6V285.3M423.34 276.6V285.3M425.05 276.6V285.3M426.76 276.6V285.3M428.48 276.6V288.2M430.20 276.6V285.3M431.91 276.6V285.3M433.63 276.6V285.3M435.35 276.6V285.3M437.07 276.6V286.8M438.80 276.6V285.3M440.52 276.6V285.3M442.24 276.6V285.3M443.97 276.6V285.3M445.69 276.6V288.2M447.42 276.6V285.3M449.15 276.6V285.3M450.88 276.6V285.3M452.61 276.6V285.3M454.34 276.6V286.8M456.08 276.6V285.3M457.81 276.6V285.3M459.55 276.6V285.3M461.28 276.6V285.3M463.02 276.6V288.2M464.76 276.6V285.3M466.50 276.6V285.3M468.24 276.6V285.3M469.98 276.6V285.3M471.72 276.6V286.8M473.47 276.6V285.3M475.21 276.6V285.3M476.96 276.6V285.3M478.71 276.6V285.3M480.45 276.6V288.2M482.20 276.6V285.3M483.96 276.6V285.3M485.71 276.6V285.3M487.46 276.6V285.3" stroke="#606060" stroke-width="0.45"/>
<text x="327.5" y="293.5" font-family="'Liberation Sans', sans-serif" font-size="6.4" font-weight="bold" text-anchor="middle" fill="#2a2a2a">0</text><text x="342.3" y="293.5" font-family="'Liberation Sans', sans-serif" font-size="6.4" font-weight="bold" fill="#2a2a2a">1cm</text><text x="360.7" y="293.5" font-family="'Liberation Sans', sans-serif" font-size="6.4" font-weight="bold" text-anchor="middle" fill="#2a2a2a">2</text><text x="377.5" y="293.5" font-family="'Liberation Sans', sans-serif" font-size="6.4" font-weight="bold" text-anchor="middle" fill="#2a2a2a">3</text><text x="394.4" y="293.5" font-family="'Liberation Sans', sans-serif" font-size="6.4" font-weight="bold" text-anchor="middle" fill="#2a2a2a">4</text><text x="411.4" y="293.5" font-family="'Liberation Sans', sans-serif" font-size="6.4" font-weight="bold" text-anchor="middle" fill="#2a2a2a">5</text><text x="428.5" y="293.5" font-family="'Liberation Sans', sans-serif" font-size="6.4" font-weight="bold" text-anchor="middle" fill="#2a2a2a">6</text><text x="445.7" y="293.5" font-family="'Liberation Sans', sans-serif" font-size="6.4" font-weight="bold" text-anchor="middle" fill="#2a2a2a">7</text><text x="463.0" y="293.5" font-family="'Liberation Sans', sans-serif" font-size="6.4" font-weight="bold" text-anchor="middle" fill="#2a2a2a">8</text><text x="480.5" y="293.5" font-family="'Liberation Sans', sans-serif" font-size="6.4" font-weight="bold" text-anchor="middle" fill="#2a2a2a">9</text>
<rect x="316" y="317.8" width="175.6" height="23.2" rx="1.2" fill="#e2e2e2" fill-opacity="0.75"/>
<rect x="317.5" y="317.8" width="172.6" height="9.6" fill="#d2d2d2"/>
<rect x="316" y="317.8" width="3" height="23.2" fill="#ececec" opacity="0.8"/>
<path d="M318.23 317.8V327.1M319.92 317.8V327.1M321.61 317.8V327.1M323.30 317.8V330.0M324.99 317.8V327.1M326.68 317.8V327.1M328.37 317.8V327.1M330.07 317.8V327.1M331.76 317.8V328.6M333.46 317.8V327.1M335.15 317.8V327.1M336.85 317.8V327.1M338.55 317.8V327.1M340.25 317.8V330.0M341.95 317.8V327.1M343.65 317.8V327.1M345.35 317.8V327.1M347.06 317.8V327.1M348.76 317.8V328.6M350.47 317.8V327.1M352.17 317.8V327.1M353.88 317.8V327.1M355.59 317.8V327.1M357.30 317.8V330.0M359.01 317.8V327.1M360.72 317.8V327.1M362.43 317.8V327.1M364.15 317.8V327.1M365.86 317.8V328.6M367.58 317.8V327.1M369.29 317.8V327.1M371.01 317.8V327.1M372.73 317.8V327.1M374.45 317.8V330.0M376.17 317.8V327.1M377.89 317.8V327.1M379.61 317.8V327.1M381.34 317.8V327.1M383.06 317.8V328.6M384.79 317.8V327.1M386.51 317.8V327.1M388.24 317.8V327.1M389.97 317.8V327.1M391.70 317.8V330.0M393.43 317.8V327.1M395.16 317.8V327.1M396.89 317.8V327.1M398.63 317.8V327.1M400.36 317.8V328.6M402.10 317.8V327.1M403.83 317.8V327.1M405.57 317.8V327.1M407.31 317.8V327.1M409.05 317.8V330.0M410.79 317.8V327.1M412.53 317.8V327.1M414.27 317.8V327.1M416.02 317.8V327.1M417.76 317.8V328.6M419.51 317.8V327.1M421.25 317.8V327.1M423.00 317.8V327.1M424.75 317.8V327.1M426.50 317.8V330.0M428.25 317.8V327.1M430.00 317.8V327.1M431.75 317.8V327.1M433.51 317.8V327.1M435.26 317.8V328.6M437.02 317.8V327.1M438.77 317.8V327.1M440.53 317.8V327.1M442.29 317.8V327.1M444.05 317.8V330.0M445.81 317.8V327.1M447.57 317.8V327.1M449.33 317.8V327.1M451.10 317.8V327.1M452.86 317.8V328.6M454.63 317.8V327.1M456.39 317.8V327.1M458.16 317.8V327.1M459.93 317.8V327.1M461.70 317.8V330.0M463.47 317.8V327.1M465.24 317.8V327.1M467.01 317.8V327.1M468.79 317.8V327.1M470.56 317.8V328.6M472.34 317.8V327.1M474.11 317.8V327.1M475.89 317.8V327.1M477.67 317.8V327.1M479.45 317.8V330.0M481.23 317.8V327.1M483.01 317.8V327.1M484.79 317.8V327.1M486.58 317.8V327.1M488.36 317.8V328.6" stroke="#606060" stroke-width="0.45"/>
<text x="323.3" y="337.6" font-family="'Liberation Sans', sans-serif" font-size="6.4" font-weight="bold" text-anchor="middle" fill="#2a2a2a">0</text><text x="338.4" y="337.6" font-family="'Liberation Sans', sans-serif" font-size="6.4" font-weight="bold" fill="#2a2a2a">1cm</text><text x="357.3" y="337.6" font-family="'Liberation Sans', sans-serif" font-size="6.4" font-weight="bold" text-anchor="middle" fill="#2a2a2a">2</text><text x="374.4" y="337.6" font-family="'Liberation Sans', sans-serif" font-size="6.4" font-weight="bold" text-anchor="middle" fill="#2a2a2a">3</text><text x="391.7" y="337.6" font-family="'Liberation Sans', sans-serif" font-size="6.4" font-weight="bold" text-anchor="middle" fill="#2a2a2a">4</text><text x="409.1" y="337.6" font-family="'Liberation Sans', sans-serif" font-size="6.4" font-weight="bold" text-anchor="middle" fill="#2a2a2a">5</text><text x="426.5" y="337.6" font-family="'Liberation Sans', sans-serif" font-size="6.4" font-weight="bold" text-anchor="middle" fill="#2a2a2a">6</text><text x="444.1" y="337.6" font-family="'Liberation Sans', sans-serif" font-size="6.4" font-weight="bold" text-anchor="middle" fill="#2a2a2a">7</text><text x="461.7" y="337.6" font-family="'Liberation Sans', sans-serif" font-size="6.4" font-weight="bold" text-anchor="middle" fill="#2a2a2a">8</text><text x="479.4" y="337.6" font-family="'Liberation Sans', sans-serif" font-size="6.4" font-weight="bold" text-anchor="middle" fill="#2a2a2a">9</text>
<rect x="316" y="357.4" width="175.6" height="32.6" rx="1.2" fill="#e2e2e2" fill-opacity="0.75"/>
<rect x="317.5" y="357.4" width="172.6" height="9.0" fill="#d2d2d2"/>
<rect x="316" y="357.4" width="3" height="32.6" fill="#ececec" opacity="0.8"/>
<path d="M318.67 357.4V366.1M320.33 357.4V366.1M321.98 357.4V366.1M323.64 357.4V366.1M325.30 357.4V369.0M326.96 357.4V366.1M328.62 357.4V366.1M330.29 357.4V366.1M331.95 357.4V366.1M333.62 357.4V367.6M335.28 357.4V366.1M336.95 357.4V366.1M338.62 357.4V366.1M340.29 357.4V366.1M341.96 357.4V369.0M343.63 357.4V366.1M345.31 357.4V366.1M346.98 357.4V366.1M348.66 357.4V366.1M350.33 357.4V367.6M352.01 357.4V366.1M353.69 357.4V366.1M355.37 357.4V366.1M357.06 357.4V366.1M358.74 357.4V369.0M360.42 357.4V366.1M362.11 357.4V366.1M363.80 357.4V366.1M365.49 357.4V366.1M367.18 357.4V367.6M368.87 357.4V366.1M370.56 357.4V366.1M372.25 357.4V366.1M373.94 357.4V366.1M375.64 357.4V369.0M377.34 357.4V366.1M379.03 357.4V366.1M380.73 357.4V366.1M382.43 357.4V366.1M384.14 357.4V367.6M385.84 357.4V366.1M387.54 357.4V366.1M389.25 357.4V366.1M390.95 357.4V366.1M392.66 357.4V369.0M394.37 357.4V366.1M396.08 357.4V366.1M397.79 357.4V366.1M399.50 357.4V366.1M401.21 357.4V367.6M402.93 357.4V366.1M404.65 357.4V366.1M406.36 357.4V366.1M408.08 357.4V366.1M409.80 357.4V369.0M411.52 357.4V366.1M413.24 357.4V366.1M414.97 357.4V366.1M416.69 357.4V366.1M418.42 357.4V367.6M420.14 357.4V366.1M421.87 357.4V366.1M423.60 357.4V366.1M425.33 357.4V366.1M427.06 357.4V369.0M428.79 357.4V366.1M430.53 357.4V366.1M432.26 357.4V366.1M434.00 357.4V366.1M435.74 357.4V367.6M437.47 357.4V366.1M439.21 357.4V366.1M440.95 357.4V366.1M442.70 357.4V366.1M444.44 357.4V369.0M446.18 357.4V366.1M447.93 357.4V366.1M449.68 357.4V366.1M451.43 357.4V366.1M453.18 357.4V367.6M454.93 357.4V366.1M456.68 357.4V366.1M458.43 357.4V366.1M460.18 357.4V366.1M461.94 357.4V369.0M463.70 357.4V366.1M465.45 357.4V366.1M467.21 357.4V366.1M468.97 357.4V366.1M470.74 357.4V367.6M472.50 357.4V366.1M474.26 357.4V366.1M476.03 357.4V366.1M477.79 357.4V366.1M479.56 357.4V369.0M481.33 357.4V366.1M483.10 357.4V366.1M484.87 357.4V366.1M486.64 357.4V366.1M488.42 357.4V367.6" stroke="#606060" stroke-width="0.45"/>
<text x="325.3" y="374.5" font-family="'Liberation Sans', sans-serif" font-size="6.4" font-weight="bold" text-anchor="middle" fill="#2a2a2a">0</text><text x="340.2" y="374.5" font-family="'Liberation Sans', sans-serif" font-size="6.4" font-weight="bold" fill="#2a2a2a">1cm</text><text x="358.7" y="374.5" font-family="'Liberation Sans', sans-serif" font-size="6.4" font-weight="bold" text-anchor="middle" fill="#2a2a2a">2</text><text x="375.6" y="374.5" font-family="'Liberation Sans', sans-serif" font-size="6.4" font-weight="bold" text-anchor="middle" fill="#2a2a2a">3</text><text x="392.7" y="374.5" font-family="'Liberation Sans', sans-serif" font-size="6.4" font-weight="bold" text-anchor="middle" fill="#2a2a2a">4</text><text x="409.8" y="374.5" font-family="'Liberation Sans', sans-serif" font-size="6.4" font-weight="bold" text-anchor="middle" fill="#2a2a2a">5</text><text x="427.1" y="374.5" font-family="'Liberation Sans', sans-serif" font-size="6.4" font-weight="bold" text-anchor="middle" fill="#2a2a2a">6</text><text x="444.4" y="374.5" font-family="'Liberation Sans', sans-serif" font-size="6.4" font-weight="bold" text-anchor="middle" fill="#2a2a2a">7</text><text x="461.9" y="374.5" font-family="'Liberation Sans', sans-serif" font-size="6.4" font-weight="bold" text-anchor="middle" fill="#2a2a2a">8</text><text x="479.6" y="374.5" font-family="'Liberation Sans', sans-serif" font-size="6.4" font-weight="bold" text-anchor="middle" fill="#2a2a2a">9</text>
<g filter="url(#bl)" stroke-linecap="round" stroke-linejoin="round" fill="none">
<path d="M329,161 C345,158 355,157 365,160.5 C380,162 420,161 459,161.5" stroke="#b87552" stroke-width="3.6"/>
<path d="M332,160 C345,158.5 355,158 365,160 C380,161 420,160.5 456,161" stroke="#d39a78" stroke-width="1.2" opacity="0.7"/>
<path d="M328,197 C350,195 370,198 390,197.5 C420,197 440,196.5 459,197" stroke="#d8aa88" stroke-width="2.8"/>
<path d="M328,197.8 C340,197 350,198.5 372,198" stroke="#b88a62" stroke-width="3.6"/>
<path d="M324,234 C360,234 420,234.8 455,235.3" stroke="#d08a64" stroke-width="3.8"/>
<path d="M330,233.5 C360,233.3 420,234.2 452,234.8" stroke="#e8b898" stroke-width="1.3" opacity="0.7"/>
<path d="M326,272.5 C345,272 360,270.5 380,272.5 C410,273 430,272.8 447,272.5" stroke="#b26e50" stroke-width="3.6"/>
<path d="M330,271.5 C345,270.5 360,269.5 380,271 C410,271.5 430,271.5 444,271.5" stroke="#cf9478" stroke-width="1.1" opacity="0.6"/>
<path d="M320,313.8 C350,314.2 400,314.2 428,314.6" stroke="#b88070" stroke-width="3.0"/>
<path d="M378,313.3 C388,312.5 398,312.8 406,313.5" stroke="#b06a58" stroke-width="3.2"/>
<path d="M326,356 C360,356 420,355.5 481,355" stroke="#9e623e" stroke-width="3.0"/>
</g>
<g filter="url(#bl)">
<path d="M314.1,159.2 C314.1,153.6 317.6,153.6 321.3,153.6 C327.0,153.6 330.0,155.6 330.0,159.7 L330.0,163.8 L321.0,164.3 C319.5,169.8 319.0,177.0 320.5,183.0 C319.0,184.8 314.2,184.5 312.7,180.0 C310.1,174.0 310.3,165.8 314.1,159.2 Z" fill="#b97a4c"/>
<ellipse cx="320.3" cy="162.8" rx="5.2" ry="3.1" fill="#8f5a34" opacity="0.4"/>
<ellipse cx="315.3" cy="178.0" rx="2.9" ry="4" fill="#8f5a34" opacity="0.3"/>
<path d="M312.0,198.3 C312.0,194.0 315.5,194.0 319.8,194.0 C326.0,194.0 329.0,196.0 329.0,198.7 L329.0,201.8 L319.5,202.3 C318.0,207.8 317.5,214.4 319.0,220.4 C317.5,222.2 311.6,221.9 309.7,217.4 C306.8,211.4 307.0,203.8 312.0,198.3 Z" fill="#9e7848"/>
<ellipse cx="318.8" cy="200.8" rx="5.5" ry="2.3" fill="#7a5830" opacity="0.4"/>
<ellipse cx="312.9" cy="215.4" rx="3.4" ry="4" fill="#7a5830" opacity="0.3"/>
<path d="M311.1,233.0 C311.1,229.1 314.6,229.1 317.8,229.1 C323.0,229.1 326.0,231.1 326.0,233.4 L326.0,236.2 L316.8,236.7 C315.3,242.2 314.8,248.8 316.3,254.8 C314.8,256.6 311.1,256.3 309.8,251.8 C307.5,245.8 307.7,238.2 311.1,233.0 Z" fill="#d07a48"/>
<ellipse cx="316.8" cy="235.2" rx="4.9" ry="2.1" fill="#a85a30" opacity="0.4"/>
<ellipse cx="311.9" cy="249.8" rx="2.5" ry="4" fill="#a85a30" opacity="0.3"/>
<path d="M312.5,270.7 C312.5,266.9 316.0,266.9 319.5,266.9 C325.0,266.9 328.0,268.9 328.0,271.0 L328.0,273.8 L318.7,274.3 C317.2,279.8 316.7,283.8 318.2,289.8 C316.7,291.6 313.2,291.3 312.0,286.8 C309.8,280.8 310.0,275.8 312.5,270.7 Z" fill="#b87048"/>
<ellipse cx="318.5" cy="272.8" rx="5.1" ry="2.1" fill="#905034" opacity="0.4"/>
<ellipse cx="314.0" cy="284.8" rx="2.4" ry="4" fill="#905034" opacity="0.3"/>
<path d="M314.6,312.9 C314.6,309.1 318.1,309.1 318.9,309.1 C321.6,309.1 324.6,311.1 324.6,313.2 L324.6,316.0 L320.0,316.5 C318.5,322.0 318.0,325.5 319.5,331.5 C318.0,333.3 315.3,333.0 314.2,328.5 C312.3,322.5 312.5,318.0 314.6,312.9 Z" fill="#b87468"/>
<ellipse cx="317.9" cy="315.0" rx="3.4" ry="2.1" fill="#8a5048" opacity="0.4"/>
<ellipse cx="315.9" cy="326.5" rx="2.0" ry="4" fill="#8a5048" opacity="0.3"/>
<path d="M311.2,353.5 C311.2,349.1 314.7,349.1 318.4,349.1 C324.0,349.1 327.0,351.1 327.0,353.9 L327.0,357.1 L320.0,357.6 C318.5,363.1 318.0,373.0 319.5,379.0 C318.0,380.8 312.6,380.5 310.9,376.0 C308.1,370.0 308.3,359.1 311.2,353.5 Z" fill="#8e5c30"/>
<ellipse cx="317.4" cy="356.1" rx="5.2" ry="2.4" fill="#6a4020" opacity="0.4"/>
<ellipse cx="313.8" cy="374.0" rx="3.2" ry="4" fill="#6a4020" opacity="0.3"/>
</g>
<g filter="url(#bl)">
<ellipse cx="387" cy="197.2" rx="4" ry="2.6" fill="#8a5d33"/>
<ellipse cx="399" cy="199" rx="4" ry="2.6" fill="#8a5d33"/>
<ellipse cx="413" cy="198" rx="4" ry="2.6" fill="#8a5d33"/>
<ellipse cx="437" cy="196.6" rx="4.5" ry="2.8" fill="#7c5029"/>
<ellipse cx="390.7" cy="354.5" rx="4" ry="2.8" fill="#8a4e28"/>
<ellipse cx="407.4" cy="355" rx="4" ry="2.6" fill="#8a4e28"/>
<ellipse cx="427.7" cy="355" rx="4" ry="2.6" fill="#8a4e28"/>
<ellipse cx="475" cy="355.3" rx="7.5" ry="2.9" fill="#8a4e28"/>
<ellipse cx="350" cy="159.3" rx="9" ry="2.6" fill="#b87552"/>
<ellipse cx="352" cy="271.3" rx="10" ry="2.8" fill="#b26e50"/>
<ellipse cx="389" cy="272.5" rx="6" ry="2.8" fill="#8e4e32"/>
<ellipse cx="411" cy="271.5" rx="2" ry="1.6" fill="#c04040"/>
<ellipse cx="446.5" cy="272" rx="2.8" ry="2.6" fill="#a04a36"/>
<ellipse cx="457.5" cy="271.5" rx="1.5" ry="1.8" fill="#b06040"/>
</g>
<g fill="#111"><rect x="307" y="150.3" width="3" height="1.6"/><rect x="307" y="175.8" width="3" height="1.6"/><rect x="308" y="313.8" width="3" height="1.6"/></g>
</g></g>
<text x="494.5" y="163.8" font-family="'Liberation Serif', serif" font-size="7.0" font-weight="bold" text-anchor="start" fill="#222" >PHI (100 mg/kg)</text>
<text x="494.5" y="204.7" font-family="'Liberation Serif', serif" font-size="7.0" font-weight="bold" text-anchor="start" fill="#222" >PHI (50 mg/kg)</text>
<text x="494.5" y="246.0" font-family="'Liberation Serif', serif" font-size="7.0" font-weight="bold" text-anchor="start" fill="#222" >PHI (25 mg/kg)</text>
<text x="494.5" y="287.7" font-family="'Liberation Serif', serif" font-size="7.0" font-weight="bold" text-anchor="start" fill="#222" >MES (100 mg/kg)</text>
<text x="494.5" y="330.8" font-family="'Liberation Serif', serif" font-size="7.0" font-weight="bold" text-anchor="start" fill="#222" >DSS</text>
<text x="494.5" y="372.1" font-family="'Liberation Serif', serif" font-size="7.0" font-weight="bold" text-anchor="start" fill="#222" >Control</text>
</svg></body></html>
